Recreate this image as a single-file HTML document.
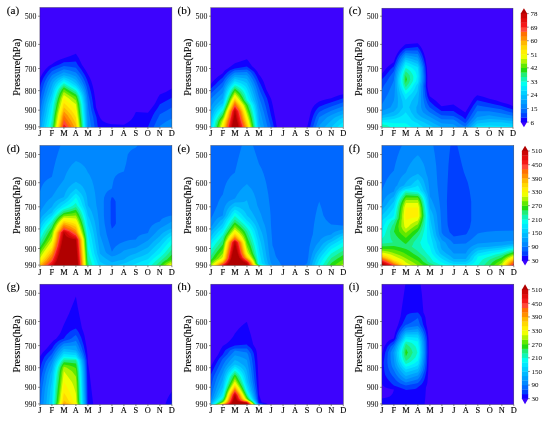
<!DOCTYPE html>
<html><head><meta charset="utf-8"><title>figure</title>
<style>html,body{margin:0;padding:0;background:#fff}svg{display:block}</style></head>
<body>
<svg width="550" height="421" viewBox="0 0 550 421">
<style>
text{font-family:"Liberation Serif",serif;fill:#000}
.lb,.yl,.mo{stroke:#000;stroke-width:0.12px}
.tk{font-size:7.9px;text-anchor:end}
.mo{font-size:8.4px;text-anchor:middle}
.lb{font-size:11.2px}
.yl{font-size:10.3px;text-anchor:middle}
.cb{font-size:7.0px}
</style>
<defs><clipPath id="ca"><rect x="39.90" y="7.40" width="132.00" height="119.90"/></clipPath><clipPath id="cb"><rect x="210.80" y="7.70" width="132.50" height="119.60"/></clipPath><clipPath id="cc"><rect x="381.90" y="8.20" width="131.10" height="119.10"/></clipPath><clipPath id="cd"><rect x="39.90" y="145.60" width="132.00" height="120.00"/></clipPath><clipPath id="ce"><rect x="210.80" y="145.60" width="132.50" height="120.00"/></clipPath><clipPath id="cf"><rect x="381.90" y="145.60" width="131.90" height="120.00"/></clipPath><clipPath id="cg"><rect x="39.90" y="284.20" width="132.00" height="120.20"/></clipPath><clipPath id="ch"><rect x="210.80" y="284.20" width="132.50" height="120.20"/></clipPath><clipPath id="ci"><rect x="381.90" y="284.20" width="131.90" height="120.20"/></clipPath><filter id="bl" x="0" y="0" width="550" height="421" filterUnits="userSpaceOnUse" color-interpolation-filters="sRGB"><feGaussianBlur stdDeviation="0.45"/></filter></defs>
<rect width="550" height="421" fill="#fff"/>
<g clip-path="url(#ca)"><g filter="url(#bl)">
<rect x="37.40" y="4.90" width="137.00" height="124.90" fill="#3d03fd"/>
<path fill-rule="evenodd" d="M37.4 129.8L174.4 129.8L174.4 88.6L171.9 88.6L165.9 92L159.9 94.6L158.1 97.3L155.7 102.3L154.5 104.3L151.6 108.3L147.9 112.7L135.9 112L133.8 116.3L131.7 119.3L129.9 121L128.2 122.3L123.9 124.8L111.9 124.3L108.9 123.7L105.9 122.8L103 121.3L101.9 120.3L100.4 118.3L98.5 114.3L96 107.3L95.4 101.3L94.1 92.3L92.8 86.3L91.3 81.3L90.1 78.3L88.5 75.3L85.6 70.3L81.9 64.8L78.9 58.3L75.9 53.8L69.7 56.3L60.9 59.3L57.9 60.5L54.7 62.3L51.9 64.3L48.9 66.1L45.6 69.3L42.7 73.3L39.9 78.3L37.4 78.3Z" fill="#1200ff"/>
<path fill-rule="evenodd" d="M37.4 129.8L97.9 129.8L97.9 127.3L96.5 117.3L94.8 112.3L93.4 107.3L93 103.3L91.4 94.3L90.7 91.3L89.3 86.3L86.8 79.3L84.9 75.2L81.1 69.3L78 65.3L75.9 61.5L69.9 62L63.9 62.3L59.9 64.3L51.9 67.6L49.8 69.3L48 71.3L45.9 73.9L43.2 78.3L41.5 82.3L40.8 84.3L39.9 88L37.4 88ZM147.9 129.8L174.4 129.8L174.4 97.8L171.9 97.8L159.9 104.3L157.5 108.3L154.7 112.3L153 115.3L150.3 121.3L147.9 127.3Z" fill="#0040ff"/>
<path fill-rule="evenodd" d="M37.4 129.8L94.6 129.8L94.6 127.3L93.2 117.3L91.4 110.3L89.9 101.3L86.6 86.3L84.9 81.4L82.8 77.3L80.9 74.3L75.9 67.7L69.9 66.7L63.9 66L55.9 69.3L51.9 71.3L48.9 74.7L47.1 77.3L45 81.3L43.8 84.3L41.6 92.3L39.9 100.2L37.4 100.2ZM153.6 129.8L174.4 129.8L174.4 107.6L171.9 107.6L165.9 111.1L159.9 114.3L156.8 120.3L153.6 127.3Z" fill="#0068ff"/>
<path fill-rule="evenodd" d="M37.4 129.8L91.2 129.8L91.2 127.3L88.5 109.3L87.1 96.3L85.9 90.3L84.1 85.3L81.6 80.3L78.9 76.1L75.9 72.6L69.9 70.6L63.9 69.3L57.9 71.9L53.5 74.3L51.9 75.3L50.5 77.3L47.5 82.3L45.4 88.3L42.5 99.3L39.9 111.8L37.4 111.8ZM159.3 129.8L174.4 129.8L174.4 118.6L171.9 118.6L166.7 121.3L162.2 124.3L159.9 126.1L159.3 127.3Z" fill="#0088ff"/>
<path fill-rule="evenodd" d="M37.4 129.8L87.9 129.8L87.7 121.3L86.8 104.3L85.9 97.3L85.4 94.3L84.2 90.3L82.5 86.3L78.9 80.4L75.9 76.4L70.5 74.3L63.9 72.3L56 76.3L53.5 78.3L51.9 80.1L50.5 82.3L49.3 85.3L47.6 90.3L45.1 98.3L43.6 104.3L39.9 123.6L37.4 123.6Z" fill="#00a0ff"/>
<path fill-rule="evenodd" d="M41.5 129.8L87 129.8L86.7 121.3L85.7 104.3L84.5 96.3L83.4 92.3L81.9 89L79.7 85.3L75.9 80.1L72.9 78.3L70.7 77.3L67.8 76.3L63.9 75.3L60.9 76.5L57.9 78.1L55.2 80.3L53.5 82.3L52.5 84.3L50 91.3L47.6 98.3L45.9 104.3L41.5 127.3Z" fill="#00b8ff"/>
<path fill-rule="evenodd" d="M43.7 129.8L86.1 129.8L85.7 120.3L84.6 104.3L83.5 97.3L83 95.3L81.4 91.3L78.3 86.3L75.9 83.5L73 81.3L71.3 80.3L66.9 78.3L63.9 77.3L60.9 78.8L58.7 80.3L56.5 82.3L54.9 84.6L53.2 88.3L51.9 93.3L50 98.3L48.1 104.3L43.7 127.3Z" fill="#00d0ff"/>
<path fill-rule="evenodd" d="M85.2 129.8L84.8 120.3L83.5 104.3L82.3 97.3L80.9 93.3L78.9 89.8L75.9 85.9L68.4 81.3L63.9 79.3L60.9 81.2L58.4 83.3L56.2 86.3L54.7 89.3L53.2 94.3L51.9 99.8L50.3 104.3L45.9 127.3L45.9 129.8Z" fill="#00e8ff"/>
<path fill-rule="evenodd" d="M84.3 129.8L84.3 127.3L82.4 104.3L81 97.3L80.3 95.3L78.3 91.3L75.9 88.3L69.9 84.5L63.9 81.3L60.9 83.5L58.4 86.3L56.6 89.3L55.1 93.3L53.7 98.3L52.3 104.3L51.9 107.6L48.1 127.3L48.1 129.8Z" fill="#00fff0"/>
<path fill-rule="evenodd" d="M83.5 129.8L83.5 127.3L82.9 120.3L81.4 104.3L79.5 96.3L77.4 92.3L75.9 90.3L63.9 83.3L60.9 86L58.4 89.3L56.7 93.3L55.4 97.3L53.7 104.3L51.9 118.9L50.3 127.3L50.3 129.8Z" fill="#10f5b8"/>
<path fill-rule="evenodd" d="M82.6 129.8L82.6 127.3L82 120.3L80.3 104.3L78.2 96.3L75.9 92.3L63.9 85.3L61.8 87.3L60.2 89.3L58.3 93.3L56.6 98.3L55.1 104.3L53.7 113.3L52.3 126.3L52.2 129.8Z" fill="#20ec78"/>
<path fill-rule="evenodd" d="M81.7 129.8L81.7 127.3L81 120.3L79.2 104.3L77.9 99.3L76.9 96.3L75.9 94.5L63.9 87.3L62.1 89.3L59.9 93.3L58.1 98.3L56.8 103.3L54.6 115.3L53.2 127.3L53.2 129.8Z" fill="#20dc10"/>
<path fill-rule="evenodd" d="M80.8 129.8L80.8 127.3L80.2 121.3L78.2 105.3L77.6 102.3L75.9 96.8L71.4 94.3L66.7 91.3L63.9 89.3L61.5 93.3L59.5 98.3L57.9 104.3L55.7 115.3L54.1 127.3L54.1 129.8Z" fill="#60e800"/>
<path fill-rule="evenodd" d="M79.9 129.8L79.9 127.3L78 111.3L77 104.3L75.9 100.5L71.9 97.3L63.9 92L63.1 93.3L61 98.3L59.3 104.3L56.9 115.3L55.1 127.3L55.1 129.8Z" fill="#b0f400"/>
<path fill-rule="evenodd" d="M79 129.8L79 127.3L78.2 120.3L75.9 104.3L72 101.3L68.6 98.3L63.9 95L62.4 98.3L58.5 113.3L56.1 127.3L56.1 129.8Z" fill="#f0ff00"/>
<path fill-rule="evenodd" d="M78.1 129.8L78 126.3L75.9 110.8L74.1 108.3L70.7 104.3L67.1 101.3L63.9 98.3L62.1 104.3L59.2 115.3L57.1 127.3L57.1 129.8Z" fill="#fff000"/>
<path fill-rule="evenodd" d="M77.2 129.8L77.2 127.3L75.9 117.3L73.5 113.3L71.2 110.3L66.9 105.7L63.9 102.9L60.4 115.3L58 127.3L58 129.8Z" fill="#ffd800"/>
<path fill-rule="evenodd" d="M76.3 129.8L76.3 127.3L75.9 124L73.6 119.3L71.2 115.3L69.6 113.3L66.9 110.3L63.9 107.6L61.3 116.3L59 127.3L59 129.8Z" fill="#ffb800"/>
<path fill-rule="evenodd" d="M74.6 129.8L74.6 127.3L70.8 120.3L67.5 115.3L63.9 111.4L62.7 115.3L60 127.3L60 129.8Z" fill="#ff9000"/>
<path fill-rule="evenodd" d="M71.9 129.8L71.9 127.3L67.5 120.3L63.9 115.3L61 127.3L61 129.8Z" fill="#ff7000"/>
<path fill-rule="evenodd" d="M69.2 129.8L69.2 127.3L66.9 124.3L63.9 119.8L62.9 124.3L61.9 127.3L61.9 129.8Z" fill="#ff4838"/>
<path fill-rule="evenodd" d="M66.6 129.8L66.6 127.3L63.9 124.3L62.9 127.3L62.9 129.8Z" fill="#f51818"/>
</g></g>
<g clip-path="url(#cb)"><g filter="url(#bl)">
<rect x="208.30" y="5.20" width="137.50" height="124.60" fill="#3d03fd"/>
<path fill-rule="evenodd" d="M208.3 129.8L276.8 129.8L276.8 127.3L275.4 119.3L272.7 105.3L271.2 99.3L270.8 98.3L266.2 89.3L263.8 82.3L262 78.7L260.4 76.3L259 74.7L257.1 71.3L254.4 68.3L252.1 66.3L248.6 61.3L246.9 59.3L234.9 63.3L228.2 68.3L225.1 70.3L224.2 71.3L222.8 73.3L218.4 76.3L215 79.3L213.2 81.3L210.8 84.3L208.3 84.3ZM307.2 129.8L345.8 129.8L345.8 94.3L343.3 94.3L339 95.3L334.3 96.9L331.3 98.3L326.4 99.3L322.8 100.3L319.2 101.6L316.6 103.3L314.4 105.3L312.9 107.3L311.8 109.3L310.7 112.3L307.2 127.3Z" fill="#1200ff"/>
<path fill-rule="evenodd" d="M208.3 129.8L273.9 129.8L273.9 127.3L273.1 123.3L271 115.3L268.7 104.3L267 98.3L264.1 92.3L260.6 84.3L259 81.3L256.7 76.3L254.3 72.3L253 70.9L246.9 66.5L234.9 68.5L230 70.3L227.4 72.3L224.5 75.3L222.8 77.6L219.5 80.3L217.4 82.3L215.7 84.3L210.8 88.5L208.3 88.5ZM310 129.8L345.8 129.8L345.8 98.3L343.3 98.3L325.4 104.3L319.2 106.8L317.6 108.3L316 110.3L314.8 112.3L313.4 115.3L311.8 120.3L310 127.3Z" fill="#0040ff"/>
<path fill-rule="evenodd" d="M208.3 129.8L271 129.8L271 127.3L267.8 115.3L265.9 107.3L263.6 99.3L260.1 91.3L257.1 83.3L255.4 79.3L252.4 74.3L250.9 72.3L249.8 71.3L246.9 69.5L234.9 70.3L232.9 71.3L230 73.3L227.7 75.3L225.1 78.3L222.8 82L210.8 93.6L208.3 93.6ZM312.9 129.8L345.8 129.8L345.8 102.3L343.3 102.3L331.3 106.5L324.4 109.3L319.2 112L317.6 114.3L316 117.3L312.9 127.3Z" fill="#0068ff"/>
<path fill-rule="evenodd" d="M208.3 129.8L267.6 129.8L267.6 127.3L263.9 112.3L261.5 104.3L259 97.3L256.5 88.3L254.6 83.3L252.6 79.3L250 75.3L246.9 71.9L234.9 72.5L232.1 74.3L229.7 76.3L226.9 79.3L224.9 82.3L222.8 87L219.8 90.3L210.8 98.8L208.3 98.8ZM315.8 129.8L345.8 129.8L345.8 106.3L343.3 106.3L331.3 110.8L325.2 113.7L319.2 117.3L315.8 127.3Z" fill="#0088ff"/>
<path fill-rule="evenodd" d="M208.3 129.8L264.1 129.8L264.1 127.3L260.6 112.3L259 107.3L258.1 102.3L254.7 90.3L253.3 86.3L251.5 82.3L249.2 78.3L246.9 75.3L234.9 74.7L231.9 77L228.9 80L225.9 84.4L224.5 87.3L222.8 92.9L215.3 100.3L212.3 104.3L210.8 107.3L208.3 107.3ZM318.6 129.8L345.8 129.8L345.8 110.3L343.3 110.3L337.7 112.3L331.3 115.1L327.2 117.3L323.1 121.3L319.2 125.6L318.6 127.3Z" fill="#00a0ff"/>
<path fill-rule="evenodd" d="M208.3 129.8L260.7 129.8L260.7 127.3L259 119.8L258.3 112.3L256.8 104.3L255.4 100.3L253.7 94.3L251.7 88.3L249.5 83.3L246.9 79L244.3 78.3L240.9 77.7L234.9 76.9L232 79.3L229.4 82.3L227.3 85.3L225.7 88.3L224.1 93.3L222.8 98.6L219.8 101.3L214.9 106.3L213.5 108.3L212.5 110.3L210.8 115.3L208.3 115.3ZM324.6 129.8L345.8 129.8L345.8 113.9L343.3 113.9L335.4 117.3L333.9 118.3L328.4 123.3L324.6 127.3Z" fill="#00b8ff"/>
<path fill-rule="evenodd" d="M208.3 129.8L258.5 129.8L258.5 127.3L257.4 116.3L256.9 112.3L255.5 105.3L254.3 102.3L253.3 100.3L251.4 94.3L249.7 89.3L246.9 83.3L243.9 81.6L240.9 80.5L234.9 79L231.9 82L229.9 84.3L227.8 87.3L226 91.3L224.8 95.3L222.8 103.3L221.1 104.3L218.5 106.3L215.8 109.3L214 112.3L212.8 115.3L211.6 119.3L210.8 123.3L208.3 123.3ZM331.3 129.8L345.8 129.8L345.8 117.5L343.3 117.5L339.8 119.3L335.2 123.3L331.3 127.3Z" fill="#00d0ff"/>
<path fill-rule="evenodd" d="M211.5 129.8L257.5 129.8L257.5 127.3L256.3 117.3L255.6 112.3L254 105.3L252.5 102.3L251.2 100.3L249.2 94.3L246.9 88.5L245.3 86.3L243.9 85.1L240.8 83.3L237.9 82.2L234.9 81.3L231.9 84.3L230.2 86.3L228.4 89.3L227 92.3L225.4 97.3L223.8 103.3L222.8 105.8L220.8 107.3L217.8 110.3L216.4 112.3L214.7 115.3L213.5 118.3L212.6 121.3L211.5 127.3ZM337.3 129.8L345.8 129.8L345.8 122L343.3 122L339.4 125.3L337.3 127.3Z" fill="#00e8ff"/>
<path fill-rule="evenodd" d="M212.8 129.8L256.5 129.8L256.5 127.3L255.1 117.3L254.2 112.3L252.4 105.3L250.6 102.3L249 100.3L246.6 93.3L245.1 90.3L243.6 88.3L240.9 86L237.9 84.5L234.9 83.4L232 86.3L230.5 88.3L228.9 91.2L227.6 94.3L224.7 103.3L222.8 108.3L220.5 110.3L218.7 112.3L216.8 115.1L215.2 118.3L214.1 121.3L212.8 127.3Z" fill="#00fff0"/>
<path fill-rule="evenodd" d="M214.1 129.8L255.5 129.8L255.5 127.3L254.1 118.3L252.8 112.3L250.8 105.3L248.8 102.3L246.9 100.3L245.3 95.3L244.4 93.3L243.2 91.3L241.5 89.3L240.4 88.3L237.3 86.3L234.9 85.2L232.1 88.3L230.2 91.3L227.6 97.3L225.6 103.3L222.8 110.6L221 112.3L219.4 114.3L218.1 116.3L215.5 121.3L214.1 127.3Z" fill="#10f5b8"/>
<path fill-rule="evenodd" d="M254.5 129.8L254.5 127.3L252.9 118.3L251.4 112.3L249.3 105.3L245.5 100.3L243.4 95.3L241.5 92.3L239.7 90.3L238.5 89.3L234.9 87L232.3 90.3L230.1 94.3L227.9 99.3L222.8 112.8L219.9 116.3L218 119.3L217 121.3L215.5 127.3L215.5 129.8Z" fill="#20ec78"/>
<path fill-rule="evenodd" d="M253.5 129.8L253.5 127.3L251.7 118.3L250.1 112.3L247.7 105.3L244 100.3L242.6 97.3L240 93.3L237.9 91.1L234.9 88.8L232.4 92.3L229.9 97.3L222.8 115.1L220.3 118.3L218.5 121.3L216.8 127.3L216.8 129.8Z" fill="#20dc10"/>
<path fill-rule="evenodd" d="M252.5 129.8L252.5 127.3L250.5 118.3L249 113.3L246.2 105.3L242.5 100.3L241.5 98.3L239.5 95.3L237.8 93.3L234.9 90.7L232.6 94.3L230 99.3L225 111.3L222.8 117.3L219.9 121.3L218.2 127.3L218.2 129.8Z" fill="#60e800"/>
<path fill-rule="evenodd" d="M251.5 129.8L251.5 127.3L249.6 119.3L248.1 114.3L244.8 105.3L241.1 100.3L239.2 97.3L236.7 94.3L234.9 92.6L233.2 95.3L230.6 100.3L225.9 111.3L223.8 117.3L222.8 119.3L221.4 121.3L219.5 127.3L219.5 129.8Z" fill="#b0f400"/>
<path fill-rule="evenodd" d="M250.4 129.8L250.4 127.3L249 121.3L245.5 110.3L243.5 105.3L237.9 97.9L234.9 94.6L231.6 100.3L226.7 111.3L224.7 117.3L222.8 121.3L220.8 127.3L220.8 129.8Z" fill="#f0ff00"/>
<path fill-rule="evenodd" d="M249.4 129.8L249.4 127.3L248.4 123.3L244.7 111.3L243.9 109.2L242.1 105.3L237.4 99.3L234.9 96.5L232.1 101.3L227.5 111.3L225.6 117.3L223.9 121.3L222.2 127.3L222.2 129.8Z" fill="#fff000"/>
<path fill-rule="evenodd" d="M248.4 129.8L248.4 127.3L247.9 125.3L243.2 110.3L240.7 105.3L234.9 98.2L232.6 102.3L228.3 111.3L226.5 117.3L224.9 121.3L223.4 127.3L223.4 129.8Z" fill="#ffd800"/>
<path fill-rule="evenodd" d="M247.4 129.8L247.4 127.3L242.6 111.3L241.1 108.3L239.3 105.3L234.9 99.9L233 103.3L229.1 111.3L227.4 117.3L225.9 121.3L224.4 127.3L224.4 129.8Z" fill="#ffb800"/>
<path fill-rule="evenodd" d="M246.3 129.8L246.3 127.3L243.9 120L241.5 111.3L239.8 108.3L237.9 105.3L234.9 101.6L230 111.3L228.4 117.3L226.9 121.3L225.5 127.3L225.5 129.8Z" fill="#ff9000"/>
<path fill-rule="evenodd" d="M245 129.8L245 127.3L242.8 120.3L240.4 111.3L238.6 108.3L234.9 103.3L230.8 111.3L229.3 117.3L227.9 121.3L226.5 127.3L226.5 129.8Z" fill="#ff7000"/>
<path fill-rule="evenodd" d="M243.8 129.8L243.8 127.3L241.7 120.3L239.3 111.3L237.4 108.3L234.9 105.1L231.6 111.3L230.2 117.3L228.9 121.3L227.6 127.3L227.6 129.8Z" fill="#ff4838"/>
<path fill-rule="evenodd" d="M242.5 129.8L242.5 127.3L240.5 120.3L238.2 111.3L234.9 106.8L232.4 111.3L228.6 127.3L228.6 129.8Z" fill="#f51818"/>
<path fill-rule="evenodd" d="M241.2 129.8L241.2 127.3L239 119.3L237.1 111.3L234.9 108.3L233.2 111.3L229.7 127.3L229.7 129.8Z" fill="#e20c0c"/>
<path fill-rule="evenodd" d="M240 129.8L240 127.3L237.9 119.6L236 111.3L234.9 109.8L234.1 111.3L232.9 117.3L230.7 127.3L230.7 129.8Z" fill="#cc0606"/>
<path fill-rule="evenodd" d="M238.7 129.8L238.7 127.3L236.7 119.3L234.9 111.3L233.9 117.3L231.7 127.3L231.7 129.8Z" fill="#b00000"/>
</g></g>
<g clip-path="url(#cc)"><g filter="url(#bl)">
<rect x="379.40" y="5.70" width="136.10" height="124.10" fill="#3d03fd"/>
<path fill-rule="evenodd" d="M379.4 73.8L379.4 129.8L515.5 129.8L515.5 106.3L513 106.3L510 104.7L507 103.7L501.1 102.3L495.6 100.3L489.2 98.7L483.2 96.8L477.2 95.3L474.9 97.3L473.3 99.3L465.3 112.6L453.4 104.6L441.5 106.3L435.5 100.6L429.6 96.3L428.2 91.3L427.3 86.3L427.3 76.3L426.8 67.3L425.3 58.3L423.9 53.3L422.2 49.3L420.4 46.3L417.7 43.3L411.7 43.7L405.7 44.3L404.3 45.3L399.8 49.8L397.4 53.3L395.4 57.3L393.8 62.3L390.8 64.3L387.3 67.3L384.7 70.3L381.9 73.8Z" fill="#1200ff"/>
<path fill-rule="evenodd" d="M379.4 79.3L379.4 129.8L515.5 129.8L515.5 109.6L513 109.6L501.1 105.8L495.1 104.6L477.2 100.3L473.4 105.3L468.6 113.3L465.3 119.3L463.2 117.3L461.8 116.3L458.2 114.3L453.4 111.1L441.5 111L435 106.3L429.6 101.3L428.6 99.3L427.4 96.3L426.6 92.1L425.8 86.3L426.1 81.3L426.1 76.3L425.5 67.3L425 64.3L423.5 58.3L422.1 54.3L420.1 50.3L417.7 47L405.7 48.3L402.8 50.3L400 53.3L398 56.3L396.6 59.3L393.8 66.5L392.7 67.3L389.7 70.3L385.8 75.3L381.9 79.3Z" fill="#0040ff"/>
<path fill-rule="evenodd" d="M379.4 89.4L379.4 129.8L515.5 129.8L515.5 112.8L513 112.8L507 111.3L501.1 109.3L482.2 106.3L477.2 105.3L468.6 119.3L465.3 123.3L457.7 118.3L453.4 116.1L441.5 115.3L436.5 112.3L429.6 107.3L428.4 105.3L427.4 103.3L426 99.3L425.2 96.3L424.3 86.3L424.8 81.3L424.8 76.3L424.2 67.3L423 62.3L421.3 57.3L419.4 53.3L417.7 50.6L405.7 50.6L402.8 53.2L400.2 56.3L398.5 59.3L395.5 66.3L393.8 71.3L389.4 77.3L386.3 82.3L384.1 85.3L381.9 89.4Z" fill="#0068ff"/>
<path fill-rule="evenodd" d="M379.4 129.8L515.5 129.8L515.5 115.8L513 115.8L510 115.3L501.1 113.3L489.2 111.3L477.2 111.3L473.4 117.3L468.3 123.3L465.3 126.4L462.3 125.2L459.4 123.6L456.4 121.3L453.4 119.6L441.5 119.3L429.6 112.3L428.4 111.3L426.6 109.3L425.3 107.3L424 102.3L423.1 96.3L422.8 86.3L423.5 81.3L423.6 76.3L422.9 67.3L421.1 61.3L418.9 56.3L417.7 54.1L411.7 53.4L405.7 52.9L403.3 55.3L401.7 57.3L399.9 60.3L397.9 64.3L396.6 67.3L395.3 71.3L394.1 77.3L393.8 80.5L387.9 93.8L384.9 99.3L381.9 104.2L379.4 104.2Z" fill="#0088ff"/>
<path fill-rule="evenodd" d="M458.4 129.8L458.4 127.3L456.3 126.3L453.4 124.3L441.5 123.3L435.9 120.3L426.6 114.9L423 112.3L422 110.3L421.1 107.3L420.9 96.3L421.3 86.3L422.2 81.3L422.4 76.3L422.1 71.3L421.6 67.3L419.9 62.3L417.7 57.6L412.6 56.3L405.7 55.2L402.8 58.7L400 63.3L398.2 67.3L396.8 71.3L395.9 75.3L395.3 79.3L394.5 96.3L393.8 100.7L390.6 107.3L386.3 109.3L381.9 111L379.4 111L379.4 129.8ZM467.3 129.8L515.5 129.8L515.5 118.6L513 118.6L501.1 117.3L489.2 115.3L477.2 116.9L472.3 122.3L467.3 127.3Z" fill="#00a0ff"/>
<path fill-rule="evenodd" d="M379.4 129.8L441.5 129.8L441.5 127.3L433.5 123.3L428.2 120.3L421.8 117.3L420.4 116.3L418.1 114.3L416.6 112.3L416.3 107.3L417.7 104.2L418.2 101.3L419.9 85.3L420.9 81.3L421.1 76.3L420.8 71.3L420.3 67.3L419.2 64.3L417.7 60.9L411.7 58.9L405.7 57.5L403.5 60.3L401.6 63.3L399.8 67.3L398.3 71.3L397.3 75.3L396.7 79.3L396.6 83.3L396.7 87.3L397.7 96.3L398 101.3L397.6 107.3L393.8 111.5L387.9 113.8L381.9 115.5L379.4 115.5ZM470.2 129.8L515.5 129.8L515.5 121.1L513 121.1L501.1 119.8L489.2 119L477.2 120.4L470.2 127.3Z" fill="#00b8ff"/>
<path fill-rule="evenodd" d="M379.4 129.8L433.5 129.8L433.5 127.3L423.6 122.3L417.7 119.6L415.7 118.3L414.7 117.3L411.2 112.3L409.2 107.3L411.6 101.3L416 94.3L417.5 91.3L418.4 85.3L419.6 81.3L419.9 76.3L419.5 71.3L419 67.3L417.7 64.1L411.7 61.6L405.7 59.8L403.3 63.3L401.3 67.3L399.8 71.3L398.7 75.3L398.1 79.3L398.1 83.3L398.7 88.3L399.9 93.3L402.3 101.3L403 107.3L399.4 112.3L397.3 114.3L395.4 115.3L393.8 116L387.9 117L381.9 117.9L379.4 117.9ZM473 129.8L515.5 129.8L515.5 123.8L513 123.8L501.1 122.3L489.2 122.3L477.2 123.4L473 127.3Z" fill="#00d0ff"/>
<path fill-rule="evenodd" d="M379.4 120.2L379.4 129.8L423.6 129.8L423.6 127.3L420 125.3L417.7 123.3L414.7 122.1L411.9 120.3L411 119.3L405.7 112.3L403.8 114.3L402.6 115.3L399.8 116.9L396.2 118.3L393.8 119L387.9 119.7L381.9 120.2ZM475.8 129.8L515.5 129.8L515.5 126.7L489.2 125.6L477.2 126L475.8 127.3ZM405.7 99.9L408.7 96.3L411.7 93.4L413.3 91.3L414.5 89.3L416.2 85.3L417.7 83.3L418.3 81.3L418.6 76.3L418.3 71.3L417.7 67.3L409.1 63.3L405.7 62.1L404.9 63.3L403.4 66.3L401.3 71.3L400.1 75.3L399.5 79.3L399.6 83.3L400.6 88.3L402.5 93.3L404.1 96.3Z" fill="#00e8ff"/>
<path fill-rule="evenodd" d="M379.4 122.3L379.4 129.8L411.7 129.8L411.7 127.3L405.7 123.3L393.8 123.3L387.9 122.6ZM405.7 94.3L409.1 91.3L410.8 89.3L412.2 87.3L413.2 85.3L416 81.3L416.9 76.3L416.1 73.3L415.3 71.3L413.5 69.3L411 67.3L405.7 64.8L402.8 71.3L401.5 75.3L401 79.3L401.2 83.3L402.1 87.3L403.4 90.3Z" fill="#00fff0"/>
<path fill-rule="evenodd" d="M379.4 124.3L379.4 129.8L390.6 129.8L390.6 127.3L387.1 125.3L381.9 124.3ZM405.7 90.6L409 87.3L411.7 83.3L412.8 81.3L413.3 79.3L413.3 76.3L412.5 74.3L410.5 71.3L408 69.3L405.7 68L404.2 71.3L402.9 75.3L402.4 79.3L402.7 83.3L403.9 87.3Z" fill="#10f5b8"/>
<path fill-rule="evenodd" d="M405.7 87.3L408.7 83.3L409.6 81.3L410.2 79.3L409.7 76.3L409.4 75.3L407.8 73.3L405.7 71.3L404.3 75.3L403.8 79.3L404.2 83.3Z" fill="#20ec78"/>
<path fill-rule="evenodd" d="M405.7 83.3L407 79.3L405.7 75.3L405.2 79.3Z" fill="#20dc10"/>
</g></g>
<g clip-path="url(#cd)"><g filter="url(#bl)">
<rect x="37.40" y="143.10" width="137.00" height="125.00" fill="#3d03fd"/>
<path fill-rule="evenodd" d="M37.4 268.1L174.4 268.1L174.4 143.1L37.4 143.1Z" fill="#1200ff"/>
<path fill-rule="evenodd" d="M37.4 268.1L174.4 268.1L174.4 143.1L37.4 143.1Z" fill="#0040ff"/>
<path fill-rule="evenodd" d="M37.4 268.1L174.4 268.1L174.4 143.1L37.4 143.1ZM111.9 228.8L110.7 223.6L110.6 201.6L111.5 197.6L111.9 197.2L113.1 197.6L114.5 199.6L115.6 201.6L115.9 223.6L114.8 225.6Z" fill="#0068ff"/>
<path fill-rule="evenodd" d="M37.4 268.1L174.4 268.1L174.4 215.6L171.9 215.6L168.9 216.1L165.9 216.9L162.9 218.3L161.3 219.6L159.9 221.6L156.9 222.6L154.8 223.6L152 225.6L150.9 226.9L149.8 228.6L147.9 232.9L141.9 234.5L139.6 235.6L138.2 236.6L137.2 237.6L135.9 239.6L129.9 240.1L126.9 240.7L123.9 241.7L119.7 243.6L117.9 244.7L115.6 246.6L113.9 248.6L111.9 251.8L106.7 234.6L104.6 223.6L103.9 215.6L103.8 201.6L104.1 197.6L104.5 196.6L105.8 193.6L107.3 191.6L108.9 190.2L111.9 188.6L113.5 180.6L114.2 178.6L115.3 176.6L117.2 174.6L118.6 173.6L120.9 172.5L123.9 171.6L126.1 163.6L127.8 154.6L129.1 152.6L130.8 150.6L132.9 149L135.9 147.4L137.6 145.6L137.6 143.1L60.5 143.1L60.5 145.6L58.1 152.6L56 159.6L54 167.6L51.9 176.8L47.3 179.6L45.9 180.8L44.2 182.6L42.9 184.5L41.8 186.6L39.9 191.6L37.4 191.6Z" fill="#0088ff"/>
<path fill-rule="evenodd" d="M37.4 268.1L174.4 268.1L174.4 221.6L171.9 221.6L159.9 228.6L157.6 230.6L154.9 233.6L147.9 240.6L141.9 243.9L135.9 247.6L129.9 248.8L123.9 250.6L121.5 252.6L119.9 253.6L117.9 254.6L114.9 255.7L111.9 256.6L110.1 255.6L107.1 253.6L106.1 252.6L105.5 251.6L99.9 234.6L98.8 221.6L97.4 210.6L96.4 205.6L95.1 193.6L93.8 186.6L92.1 180.6L89.9 175.6L87.9 172.6L85.9 168.6L84.4 166.6L82.3 164.6L81 163.6L78.9 162.3L75.9 161L72 164.6L69 168.6L66.3 173.6L64 179.6L57.4 188.6L52.3 196.6L51.4 197.6L48.9 199.6L46.2 202.6L41.5 209.6L39.9 212.7L37.4 212.7Z" fill="#00a0ff"/>
<path fill-rule="evenodd" d="M37.4 268.1L174.4 268.1L174.4 228.6L171.9 228.6L168.9 229.6L165.9 231L163.4 232.6L161.1 234.6L159.9 236L153.5 241.6L147.9 247.6L135.9 253.6L132.6 254.6L129.9 255.6L126.4 257.6L123.9 259.6L117.9 260.8L111.9 262.6L105.7 258.6L101.9 255.6L99.9 253.6L96 228.6L94.7 221.6L93.3 216.6L91.6 211.6L90.1 208.6L87.9 205.6L87 197.6L86.1 193.6L84.4 189.6L82.5 186.6L80.5 184.6L75.9 181.8L71.7 184.6L69.9 186.2L68.6 187.6L67.2 189.6L65.5 192.6L63.9 196.9L62.9 197.6L60.2 198.6L58.3 199.6L55.6 201.6L53.8 203.6L51.9 206.9L48.7 209.6L46 212.6L42.8 215.6L41.3 217.6L39.9 220L37.4 220Z" fill="#00b8ff"/>
<path fill-rule="evenodd" d="M37.4 268.1L107.9 268.1L107.9 265.6L105 264.6L102.9 263.6L99.9 261.6L97.2 253.6L93.9 234.6L92.4 227.6L90.2 220.6L87.9 215.3L86.9 210.6L85.2 205.6L84.4 201.6L83.3 197.6L82.3 195.6L81 193.6L77.2 189.6L75.9 188.4L70.5 193.6L67.7 197.6L63.9 200.7L60.6 202.6L57.9 204.9L53.7 209.6L51.9 212.7L48.8 214.6L45.9 217L44.4 218.6L42.2 221.6L39.9 225.1L37.4 225.1ZM115.9 268.1L174.4 268.1L174.4 232.1L171.9 232.1L168.9 233.6L165.9 235.7L162.9 238.3L159.9 241.8L156.8 244.6L147.9 253.6L141.9 256.2L135.9 258.3L126.8 262.6L123.9 263.6L115.9 265.6Z" fill="#00d0ff"/>
<path fill-rule="evenodd" d="M37.4 268.1L98.4 268.1L98.4 265.6L94.4 253.6L90.9 234.6L89.5 229.6L87.9 224.9L86.9 218.6L85.5 212.6L84.4 209.6L82.6 205.6L80.9 200.6L79.6 197.6L78 195.6L75.9 193.6L73.6 195.6L70.8 198.6L68.7 200.6L66.2 202.6L61.9 205.6L59.8 207.6L57.9 208.8L55.9 210.6L51.9 215.7L48.9 217.9L45.4 221.6L43.1 224.6L39.9 229.9L37.4 229.9ZM131.9 268.1L174.4 268.1L174.4 235.5L171.9 235.5L167.6 238.6L163.1 243.6L159.9 247.6L153.9 253.6L151.6 255.6L147.9 259.2L141.2 261.6L131.9 265.6Z" fill="#00e8ff"/>
<path fill-rule="evenodd" d="M37.4 268.1L95.4 268.1L95.4 265.6L92.2 255.6L90.8 249.6L87.9 234.6L86.5 224.6L84.8 216.6L83.5 212.6L82.3 209.6L79.9 205.6L77.7 200.6L75.9 197.6L73.4 200.6L70.1 203.6L67.3 205.6L60.9 209.1L57.9 211.5L54.1 215.6L51.9 218.6L48.9 221.4L46 224.6L42.8 229.6L39.9 234.6L37.4 234.6ZM145.4 268.1L174.4 268.1L174.4 239.1L171.9 239.1L165.3 246.6L159.9 253.6L156.9 255.8L153.6 258.6L150.5 261.6L147.9 264.5L145.4 265.6Z" fill="#00fff0"/>
<path fill-rule="evenodd" d="M37.4 268.1L92.4 268.1L92.4 265.6L90 257.6L87.9 249.6L87.4 239.6L86.9 234.6L85.6 226.6L84.3 220.6L82.8 215.6L81.2 211.6L79.5 208.6L77.2 205.6L75.9 203.1L73 205.6L69.3 207.6L63.4 209.6L60.9 211.3L57.9 213.9L54.9 217.1L53.1 219.6L51.9 221.6L49 224.6L47.5 226.6L44.1 231.6L39.9 239.5L37.4 239.5ZM151.3 268.1L174.4 268.1L174.4 244.3L171.9 244.3L164.2 253.6L161 256.6L156.3 260.6L153.2 263.6L151.3 265.6Z" fill="#10f5b8"/>
<path fill-rule="evenodd" d="M37.4 268.1L89.4 268.1L89.4 265.6L87.9 260.3L86.5 238.6L86 234.6L84.4 226.6L82.5 219.6L80.7 214.6L78.6 210.6L75.9 207L72.9 208.4L69.9 209.5L63.9 211.1L60.9 213.3L58.3 215.6L56.4 217.6L54.9 219.5L53.5 221.6L51.9 224.6L46.7 231.6L41.3 241.6L39.9 243.7L37.4 243.7ZM155.6 268.1L174.4 268.1L174.4 249.6L171.9 249.6L168.5 253.6L165.6 256.6L155.6 265.6Z" fill="#20ec78"/>
<path fill-rule="evenodd" d="M37.4 268.1L87.5 268.1L87.5 265.6L85.9 239.6L85 234.6L82.9 225.6L81 219.6L78.4 213.6L75.9 209.8L70.2 211.6L63.9 212.9L59.3 216.6L56.6 219.6L54.9 222L53.4 224.6L51.9 228.1L49.3 231.6L43.8 241.6L39.9 247.4L37.4 247.4ZM159.9 268.1L174.4 268.1L174.4 254.6L171.9 254.6L167.1 259.6L165.2 260.6L162.5 262.6L159.9 265.6Z" fill="#20dc10"/>
<path fill-rule="evenodd" d="M37.4 268.1L86.8 268.1L86.8 265.6L84.9 238.5L82.2 227.6L80.6 222.6L78.6 217.6L75.9 212.6L71.5 213.6L63.9 214.6L60.2 217.6L58.3 219.6L56.8 221.6L54.8 224.6L53.4 227.6L51.9 231.6L48.2 238.6L46.3 241.6L39.9 251.1L37.4 251.1ZM162.6 268.1L174.4 268.1L174.4 259.6L171.9 259.6L168.9 260.9L165.9 262.6L164.6 263.6L162.6 265.6Z" fill="#60e800"/>
<path fill-rule="evenodd" d="M37.4 268.1L86.1 268.1L86.1 265.6L84.3 239.6L83.6 236.6L80.3 225.6L78 219.6L75.9 215.6L63.9 216.2L60.9 218.8L57.9 222.2L55.7 225.6L53.4 230.6L52.7 232.6L51.9 236.5L50.2 239.6L42.5 250.6L39.9 254.8L37.4 254.8ZM165.2 268.1L174.4 268.1L174.4 261.3L171.9 261.3L167.7 263.6L165.2 265.6Z" fill="#b0f400"/>
<path fill-rule="evenodd" d="M37.4 268.1L85.4 268.1L85.4 265.6L83.6 239.6L82.7 236.6L81.3 232.6L79.4 226.6L77.4 221.6L75.9 218.5L69.9 218L63.9 217.7L61.8 219.6L59.2 222.6L57.1 225.6L54.1 231.6L51.9 240.8L44.2 251.6L41 256.6L39.9 257.9L37.4 257.9ZM167.9 268.1L174.4 268.1L174.4 263L171.9 263L167.9 265.6Z" fill="#f0ff00"/>
<path fill-rule="evenodd" d="M37.4 268.1L84.6 268.1L84.6 265.6L82.8 239.6L81.8 236.6L80.2 232.6L78.5 227.6L75.9 221.5L72.9 220.7L69.9 220.1L63.9 219.3L60.8 222.6L58.5 225.6L54.7 232.6L53.5 238.6L51.9 244.5L46.5 251.6L43.1 256.6L39.9 260.4L37.4 260.4ZM170.6 268.1L174.4 268.1L174.4 264.7L171.9 264.7L170.6 265.6Z" fill="#fff000"/>
<path fill-rule="evenodd" d="M37.4 268.1L83.9 268.1L83.9 265.6L82 239.6L81 236.6L79.1 232.6L77.7 228.6L75.9 224.4L72.9 223.1L69.9 222.2L63.9 220.9L62.3 222.6L59.9 225.6L55.8 232.6L54.3 239.6L51.9 247.8L48.8 251.6L45.3 256.6L41 261.6L39.9 262.6L37.4 262.6Z" fill="#ffd800"/>
<path fill-rule="evenodd" d="M37.4 268.1L83.2 268.1L83.2 265.6L81.3 239.6L80.1 236.6L78 232.6L75.9 227.1L73.1 225.6L70.7 224.6L67.8 223.6L63.9 222.6L61.3 225.6L58.9 229.6L56.8 232.6L55.6 238.6L53.4 246.6L51.9 250.7L47.5 256.6L43.2 261.6L39.9 264.6L37.4 264.6Z" fill="#ffb800"/>
<path fill-rule="evenodd" d="M41 268.1L82.4 268.1L82.4 265.6L80.5 239.6L79.2 236.6L77 232.6L75.9 229.9L72.9 227.9L70.3 226.6L68 225.6L63.9 224.2L62.7 225.6L60.1 229.6L57.8 232.6L56.4 239.6L54.8 245.6L51.9 253.6L46.4 260.6L41 265.6Z" fill="#ff9000"/>
<path fill-rule="evenodd" d="M43.2 268.1L81.7 268.1L81.7 265.6L79.7 239.6L77.2 234.6L75.9 232.6L74.9 231.6L73.6 230.6L69.9 228.6L63.9 225.9L61.4 229.6L58.8 232.6L57.4 239.6L55.6 246.6L53.9 251.6L51.9 256.5L48.7 260.6L43.2 265.6Z" fill="#ff7000"/>
<path fill-rule="evenodd" d="M45.4 268.1L81 268.1L81 265.6L79 239.6L77.4 236.6L75.9 234.1L70.3 230.6L67.8 229.6L63.9 227.8L62.6 229.6L59.8 232.6L58.4 239.6L56.7 246.6L54.3 253.6L51.9 259.4L50.9 260.6L45.4 265.6Z" fill="#ff4838"/>
<path fill-rule="evenodd" d="M47.5 268.1L80.3 268.1L80.3 265.6L78.2 239.6L75.9 235.6L73.9 234.6L69.4 231.6L66.9 230.5L63.9 229.6L60.9 232.5L58.1 245.6L55.2 254.6L53.1 259.6L52 261.6L47.5 265.6Z" fill="#f51818"/>
<path fill-rule="evenodd" d="M49.7 268.1L79.5 268.1L79.5 265.6L77.4 239.6L75.9 236.9L72.5 235.6L70.9 234.6L68.7 232.6L66.6 231.6L63.9 230.6L61.9 232.6L59.2 245.6L56.8 253.6L54.1 260.6L51.9 263.7L49.7 265.6Z" fill="#e20c0c"/>
<path fill-rule="evenodd" d="M78.8 268.1L78.8 265.6L76.7 239.6L75.9 238.3L72.9 237.4L69.9 236.1L68 234.6L66.3 232.6L63.9 231.6L62.9 232.6L60.2 245.6L57.9 253.9L55.5 260.6L53.5 263.6L51.9 265.6L51.9 268.1Z" fill="#cc0606"/>
<path fill-rule="evenodd" d="M78.1 268.1L78.1 265.6L75.9 239.6L71 238.6L68.4 237.6L66.9 236.7L65.7 235.6L65 234.6L63.9 232.6L61.3 245.6L59.5 252.6L56.8 260.6L55.1 263.6L53.6 265.6L53.6 268.1Z" fill="#b00000"/>
</g></g>
<g clip-path="url(#ce)"><g filter="url(#bl)">
<rect x="208.30" y="143.10" width="137.50" height="125.00" fill="#3d03fd"/>
<path fill-rule="evenodd" d="M208.3 268.1L345.8 268.1L345.8 143.1L208.3 143.1Z" fill="#1200ff"/>
<path fill-rule="evenodd" d="M208.3 268.1L345.8 268.1L345.8 143.1L208.3 143.1Z" fill="#0040ff"/>
<path fill-rule="evenodd" d="M208.3 268.1L345.8 268.1L345.8 143.1L208.3 143.1Z" fill="#0068ff"/>
<path fill-rule="evenodd" d="M208.3 268.1L281.4 268.1L281.4 265.6L279.2 261.6L276.5 257.6L275.6 255.6L274 249.6L272.5 245.6L271 225.6L270.6 215.6L270 208.6L268.3 194.6L266.3 183.6L265 178.5L263.5 173.6L261.5 168.6L259 163.9L253 145.6L253 143.1L241.8 143.1L241.8 145.6L238.3 158.6L234.9 172.6L232.4 174.6L230.4 176.6L227.6 180.6L226.1 183.6L225 186.6L223.8 190.6L222.8 194.6L221.3 196.6L219.5 199.6L218.2 202.6L217.2 205.6L212.7 215.6L211.5 217.6L210.8 219.9L208.3 219.9ZM345.8 268.1L345.8 225.7L341.8 225.6L337.3 225L331.3 224.6L328.6 222.6L325.8 219.6L323.4 215.6L321.6 208.6L319.2 201.6L317.3 207.6L315.5 215.6L314 224.6L312.8 234.6L311.5 238.6L309.6 246.6L308.8 252.6L308.3 257.6L307.2 262.9L304.5 265.6L304.5 268.1Z" fill="#0088ff"/>
<path fill-rule="evenodd" d="M208.3 268.1L272.7 268.1L272.7 265.6L271 263.3L269.6 257.6L267 235.6L266.1 230.6L264.9 225.6L262.9 220.6L261.1 214.6L257.3 205.6L256 199.6L253.9 193.6L252.4 190.6L251.1 188.6L246.9 183.9L246.4 184.6L242.9 187.6L240.2 190.6L237.3 194.6L235 198.6L230.1 200.6L228.5 201.6L226.6 203.6L224.9 206.6L224.2 208.6L223.4 211.6L222.8 215.6L219.8 216.9L218.6 217.6L216.8 219.1L214.7 221.6L212.3 225.6L210.8 227.2L208.3 227.2ZM309.2 268.1L345.8 268.1L345.8 229.6L343.3 229.6L340.3 230.1L337.3 230.9L335.5 231.6L333.6 232.6L332.2 233.6L331.3 234.6L327.1 235.6L324.6 236.6L322.2 238.1L320.6 239.6L319.2 241.8L317.5 243.6L316 245.6L313 251.6L312 254.6L309.2 265.6Z" fill="#00a0ff"/>
<path fill-rule="evenodd" d="M208.3 268.1L269.8 268.1L269.8 265.6L268 263.6L266.6 257.6L264.1 241.6L263 236.6L261.8 232.6L258.1 223.6L255.7 218.6L251.7 211.6L249.6 208.6L246.9 200.3L245 201.6L243.9 201.9L240.9 202.3L234.9 202.6L231.9 204.5L229.6 206.6L228.1 208.6L226.5 211.6L225.3 215.6L222.8 218.9L220.4 220.6L216.6 225.6L210.8 231.4L208.3 231.4ZM311.7 268.1L345.8 268.1L345.8 233.1L343.3 233.1L340.3 234L336.3 235.6L334.5 236.6L331.3 238.9L327.4 240.6L325.2 242L323.3 243.6L321.6 245.6L319.2 249.1L317.2 251.6L315.4 254.6L313.2 260.6L311.7 265.6Z" fill="#00b8ff"/>
<path fill-rule="evenodd" d="M208.3 268.1L268.2 268.1L268.2 265.6L265 263.6L263.6 257.6L262.6 251.6L260.8 242.6L259 236.9L257.4 230.6L255.9 226.6L254.8 224.6L253 221.9L249.9 218.3L246.9 215.6L246 213.6L244.6 211.6L242.6 209.6L239.3 207.6L234.9 206.2L232 208.6L229.7 211.6L227.8 215.6L224.1 220.6L222.8 223.2L220.9 225.6L214.6 231.6L210.8 236.8L208.3 236.8ZM314.2 268.1L345.8 268.1L345.8 235.5L343.3 235.5L340.4 236.6L335.8 239.6L328.6 243.6L325.4 246.6L319.2 254.1L317.7 256.6L316 260.6L314.2 265.6Z" fill="#00d0ff"/>
<path fill-rule="evenodd" d="M266.7 268.1L266.7 265.6L261.9 263.6L259 249.2L257.5 240.6L255 231.6L253.7 228.6L251.1 224.6L249.3 222.6L246.9 220.6L240.9 213.4L237.9 211L234.9 209.4L232 212.6L230.3 215.6L226.5 220.6L222.8 227.7L218.6 231.6L213.6 237.6L210.8 240.5L208.3 240.5L208.3 268.1ZM316.7 268.1L345.8 268.1L345.8 238.4L343.3 238.4L331.3 245.5L328.2 248.1L321.9 255.6L319.2 259.6L316.7 265.6Z" fill="#00e8ff"/>
<path fill-rule="evenodd" d="M265.2 268.1L265.2 265.6L259 263.6L258.2 255.6L256.5 245.6L254.4 237.6L252.7 232.6L251.9 230.6L250 227.6L248.4 225.6L237.5 214.6L234.9 212.6L228.3 221.6L222.8 231.4L219.8 234.4L215.4 239.6L212.6 242.6L210.8 245.1L208.3 245.1L208.3 268.1ZM319.2 268.1L345.8 268.1L345.8 241.9L343.3 241.9L337.3 245.8L331.3 249.2L324.9 256.6L322.8 259.6L319.2 265.6Z" fill="#00fff0"/>
<path fill-rule="evenodd" d="M263.6 268.1L263.6 265.6L259 264.4L258.2 263.6L257.7 259.6L254.5 245.6L252 237.6L249.7 231.6L247.6 228.6L244.2 224.6L234.9 216.1L229.3 223.6L225 230.6L222.8 235.1L221.4 236.6L215.8 243.6L210.8 250.6L208.3 250.6L208.3 268.1ZM322.7 268.1L345.8 268.1L345.8 246.2L343.3 246.2L331.3 253.6L327.8 257.6L322.7 265.6Z" fill="#10f5b8"/>
<path fill-rule="evenodd" d="M262.1 268.1L262.1 265.6L259 264.9L258.5 264.6L257.5 263.6L256.6 259.6L254.6 253.6L252.5 245.6L249.6 237.6L247 231.6L245.6 229.6L242 225.6L238.8 222.6L234.9 219.6L231.5 223.6L226.8 230.6L224.1 235.6L223.3 237.6L222.8 239.6L215.1 249.6L210.8 256L208.3 256L208.3 268.1ZM326.1 268.1L345.8 268.1L345.8 250.6L343.3 250.6L331.3 257.9L326.1 265.6Z" fill="#20ec78"/>
<path fill-rule="evenodd" d="M208.3 268.1L260.5 268.1L260.5 265.6L259 265.2L257.7 264.6L256.7 263.6L255.6 259.6L253 253.6L250.5 245.6L246.1 234.6L244.6 231.6L242.9 229.6L240 226.6L234.9 222.2L232.9 224.6L228.9 230.2L225.9 235L225 236.6L224 239.6L222.8 244.6L217.2 251.6L214.3 255.6L212.4 258.6L210.8 260.1L208.3 260.1ZM329.5 268.1L345.8 268.1L345.8 255.1L343.3 255.1L337.3 258.8L331.3 263L329.5 265.6Z" fill="#20dc10"/>
<path fill-rule="evenodd" d="M208.3 268.1L259 268.1L259 265.6L256.9 264.6L256 263.6L255.4 261.6L254.6 259.6L253.3 257.6L251.3 253.6L249.3 247.6L246.9 242.2L245.9 238.6L244.2 234.6L242.2 231.6L241.3 230.6L234.9 224.8L229.7 231.6L226.4 236.6L224.4 241.6L222.8 249.1L217.5 255.6L215.4 258.6L212.7 260.6L210.8 262.8L208.3 262.8ZM334.3 268.1L345.8 268.1L345.8 259.6L343.3 259.6L339.9 261.6L334.3 265.6Z" fill="#60e800"/>
<path fill-rule="evenodd" d="M210.8 268.1L258.1 268.1L258.1 265.6L256.1 264.6L255.2 263.6L254.6 261.6L253.5 259.6L252.1 257.6L251 255.6L249.7 253.6L246.9 246.5L245.7 241.6L243.5 236.6L242.2 234.6L239.7 231.6L234.9 227.3L228.9 235L227.8 236.6L225.9 240.5L225 242.6L222.8 253.3L218.4 258.6L215.1 260.6L212 263.6L210.8 265.6ZM340.3 268.1L345.8 268.1L345.8 263.6L343.3 263.6L340.3 265.6Z" fill="#b0f400"/>
<path fill-rule="evenodd" d="M212.1 268.1L257.1 268.1L257.1 265.6L255.3 264.6L254.5 263.6L254.2 262.6L253 260.3L250.8 257.6L249.6 255.6L248 253.6L246.9 251L244.6 241.6L241.8 236.6L239.4 233.6L234.9 229.6L229.9 235.6L226.3 241.6L225.9 242.6L222.8 256.9L221.4 258.6L217.6 260.6L213.7 263.6L212.1 265.6Z" fill="#f0ff00"/>
<path fill-rule="evenodd" d="M213.5 268.1L256.2 268.1L256.2 265.6L254.5 264.6L253.8 263.6L253.4 262.6L252.2 260.6L250.6 258.6L249.5 257.6L246.6 253.6L244 242.6L242.9 240.6L239.3 235.6L237.9 234.1L234.9 231.6L230.6 236.6L227.2 241.6L226.8 242.6L223.3 258.6L222.8 259.2L218.3 261.6L215.4 263.6L214.3 264.6L213.5 265.6Z" fill="#fff000"/>
<path fill-rule="evenodd" d="M214.8 268.1L255.3 268.1L255.3 265.6L253.7 264.6L252 261.6L250.5 259.6L248.2 257.6L246.9 255.9L245.6 253.6L243 242.6L242.5 241.6L237.9 236L234.9 233.4L232 236.6L228.2 241.6L227.7 242.6L224.2 258.6L222.8 260.4L217.2 263.6L214.8 265.6Z" fill="#ffd800"/>
<path fill-rule="evenodd" d="M216.2 268.1L254.3 268.1L254.3 265.6L252.9 264.6L251.9 262.6L249.9 260.1L248.3 258.6L246.9 257.6L244.6 253.6L242 242.6L240.9 241L236.7 236.6L234.9 234.9L229.1 241.6L228.6 242.6L225.1 258.6L222.8 261.5L218.9 263.6L216.2 265.6Z" fill="#ffb800"/>
<path fill-rule="evenodd" d="M253.4 268.1L253.4 265.6L252.1 264.6L251.1 262.6L249.4 260.6L245.8 257.6L243.7 253.6L241 242.6L240.3 241.6L234.9 236.5L230.1 241.6L229.5 242.6L225.9 258.6L224.6 260.6L222.8 262.6L219.8 264L217.5 265.6L217.5 268.1Z" fill="#ff9000"/>
<path fill-rule="evenodd" d="M252.5 268.1L252.5 265.6L251.4 264.6L250.3 262.6L249.5 261.6L247.4 259.6L244.7 257.6L243.2 254.6L242.4 252.6L240 242.6L239.3 241.6L234.9 237.9L231 241.6L230.4 242.6L226.8 258.6L225.5 260.6L223.9 262.6L218.8 265.6L218.8 268.1Z" fill="#ff7000"/>
<path fill-rule="evenodd" d="M251.6 268.1L251.6 265.6L250.6 264.6L249.5 262.6L246.9 260.1L243.6 257.6L242.6 255.6L241.4 252.6L239 242.6L237.9 241.4L234.9 239.1L232 241.6L231.3 242.6L227.7 258.6L226.5 260.6L225 262.6L222.8 264.1L220.2 265.6L220.2 268.1Z" fill="#ff4838"/>
<path fill-rule="evenodd" d="M250.6 268.1L250.6 265.6L249.8 264.6L248.7 262.6L246.9 260.9L244.8 259.6L242.5 257.6L240.7 253.6L238 242.6L237.1 241.6L234.9 240L232.9 241.6L232.1 242.6L228.6 258.6L227.5 260.6L226.1 262.6L224.8 263.6L221.5 265.6L221.5 268.1Z" fill="#f51818"/>
<path fill-rule="evenodd" d="M249.7 268.1L249.7 265.6L249 264.6L248 262.6L246.9 261.6L243.9 259.9L241.4 257.6L239.7 253.6L237 242.6L236 241.6L234.9 240.8L233.9 241.6L233 242.6L229.5 258.6L227.1 262.6L224.6 264.6L222.8 265.6L222.8 268.1Z" fill="#e20c0c"/>
<path fill-rule="evenodd" d="M248.8 268.1L248.8 265.6L247.2 262.6L243.4 260.6L242.2 259.6L240.3 257.6L238.7 253.6L236 242.6L234.9 241.6L233.9 242.6L230.3 258.6L228.2 262.6L225.9 264.6L224.4 265.6L224.4 268.1Z" fill="#cc0606"/>
<path fill-rule="evenodd" d="M247.9 268.1L247.9 265.6L246.9 263.4L243.4 261.6L241.9 260.6L240.8 259.6L239.2 257.6L237.8 253.6L234.9 242.5L231.2 258.6L229.3 262.6L227.3 264.6L225.9 265.6L225.9 268.1Z" fill="#b00000"/>
</g></g>
<g clip-path="url(#cf)"><g filter="url(#bl)">
<rect x="379.40" y="143.10" width="136.90" height="125.00" fill="#3d03fd"/>
<path fill-rule="evenodd" d="M379.4 268.1L516.3 268.1L516.3 143.1L379.4 143.1Z" fill="#1200ff"/>
<path fill-rule="evenodd" d="M379.4 268.1L516.3 268.1L516.3 143.1L379.4 143.1Z" fill="#0040ff"/>
<path fill-rule="evenodd" d="M379.4 268.1L516.3 268.1L516.3 143.1L457.3 143.1L457.3 145.6L462.1 165.6L464 172.6L467.8 182.6L469.6 190.6L471.2 201.6L471.2 220.6L469.9 227.6L466.9 233.6L465.8 234.6L453.8 236.6L449.8 232.6L449.3 231.6L447.8 225.6L447.4 220.6L446.9 201.6L447.4 186.6L448.5 164.6L449.4 154.6L450.4 145.6L450.4 143.1L379.4 143.1Z" fill="#0068ff"/>
<path fill-rule="evenodd" d="M401.9 143.1L401.9 145.6L399.6 150.6L397.5 156.6L395.5 163.6L393.9 170.6L390.2 174.6L386.8 179.6L383 187.6L381.9 191.6L379.4 191.6L379.4 268.1L516.3 268.1L516.3 230.6L504.8 230.8L495.8 231.1L486.8 231.8L480.8 232.7L477.8 233.6L471.8 239L465.8 243.6L453.8 243.9L450.7 240.6L443.7 235.6L441.9 232.9L441.6 231.6L440.4 210.6L439.4 201.6L438.7 196.6L437.5 185.6L436.2 165.6L434.8 154.6L433.3 145.6L433.3 143.1Z" fill="#0088ff"/>
<path fill-rule="evenodd" d="M379.4 204.6L379.4 268.1L516.3 268.1L516.3 240.6L507.8 240.9L501.8 241.7L495.8 242L489.8 242.6L483.8 242.9L477.8 243.6L473.2 245.6L471.6 246.6L469.1 248.6L467.4 250.6L465.8 253.6L453.8 253.6L451.3 250.6L448.3 247.6L445.5 242.6L441.9 239.9L439.5 235.6L438.6 231.6L437.4 220.6L437.1 216.6L436.4 212.6L435.2 208.6L432.9 202.4L431.6 199.6L429.9 196.6L429.6 192.6L428.5 182.6L427.7 177.6L426.3 173.6L424.5 166.6L423.4 163.6L420.9 158.9L419.2 156.6L417.9 155.2L416.2 156.6L414.2 158.6L412.5 160.6L410.4 163.6L408.1 167.6L405.9 172.6L402.7 175.6L401.1 177.6L399.9 179.6L398.4 182.6L397.2 185.6L396 186.6L395.3 187.6L394.5 189.6L393.9 191.6L389.9 193.6L387.9 195.1L386.4 196.6L384.9 198.5L383.6 200.6L381.9 204.6Z" fill="#00a0ff"/>
<path fill-rule="evenodd" d="M379.4 209.9L379.4 268.1L516.3 268.1L516.3 243.9L513.8 243.9L504.8 244.9L501.8 245.6L495.8 246L489.8 246.8L477.8 247.6L474.8 249.1L471.8 251.3L468.2 255.6L465.8 259.1L453.8 259.1L449.5 255.6L446.3 253.6L441.9 249.7L440.8 247.6L440 242.6L438.3 239.6L436.5 235.6L435.7 231.6L433.3 215.6L431.8 211.6L429.9 208L428.8 199.6L427.9 194.6L426.5 190.6L424.3 182.6L423.2 179.6L421.9 177.6L420.9 176.4L417.9 173.8L412.4 176.6L409.6 178.6L407.6 180.6L405.9 182.6L403.9 185.6L401.2 186.6L399.5 187.6L397.9 189.6L396.8 190.6L396.2 191.6L393.9 196.4L391.2 198.6L389.3 200.6L386.7 204.6L381.9 209.9Z" fill="#00b8ff"/>
<path fill-rule="evenodd" d="M379.4 215.2L379.4 268.1L516.3 268.1L516.3 245.6L513.8 245.6L507.8 246.5L501.8 247.6L483.8 249.6L477.8 250.6L474.9 252.6L472.8 254.6L470.9 256.6L469.9 258.6L469.1 259.6L465.8 261.8L453.8 261.8L448.9 259.6L441.3 254.6L440.2 253.6L439.5 252.6L437.2 247.6L436.3 242.6L435 239.6L433.6 235.6L430.5 220.6L427.8 201.6L427 197.6L425.9 194.6L424.9 192.6L423.5 190.6L422.4 187.6L420.6 183.6L418.9 180.6L417.9 179.2L414.8 181.6L410.8 185.6L405.9 186.8L403.8 187.6L401.4 189.6L399.5 190.6L398.4 191.6L396.9 194.1L395.7 196.6L393.9 201.6L386.5 210.6L383.7 213.6L381.9 215.2Z" fill="#00d0ff"/>
<path fill-rule="evenodd" d="M379.4 220.6L379.4 268.1L516.3 268.1L516.3 247.1L513.8 247.1L507.8 248.2L501.8 249.6L489.8 251.1L477.8 253.6L474.4 256.6L472.8 259.6L471.8 260.7L469.2 262.6L467.2 263.6L465.8 264L453.8 264L452.1 263.6L449.1 262.6L444.9 260.6L441.9 258.7L439.1 256.6L436.1 253.6L435.6 252.6L433.7 247.6L432.5 242.6L430.9 236.6L429.2 227.6L428.7 221.6L428.5 215.6L427.4 207.6L426.4 201.6L425.4 197.6L423.9 194.3L422.6 192.6L420.6 190.6L419.1 187.6L417.9 185.6L416.1 186.6L414.9 187.1L408.9 188.4L405.9 188.9L404.8 189.6L402.3 190.6L400.7 191.6L399.2 193.6L397.5 196.6L395.5 201.6L393.9 207.5L391.1 211.6L388.7 214.6L386.8 216.6L381.9 220.6Z" fill="#00e8ff"/>
<path fill-rule="evenodd" d="M379.4 268.1L453.8 268.1L453.8 265.6L447.9 264.6L444.9 263.7L441.9 262.6L440.1 261.6L438.7 260.6L435.4 257.6L433.6 255.6L432.1 253.6L431.3 251.6L429.9 246.5L427.7 242.6L427.3 240.6L426.9 236.6L426.9 231.6L427.2 215.6L426.2 207.6L425.1 201.6L423.9 197.6L422.8 195.6L420.9 193.2L417.9 190.8L411.9 190.4L405.9 190.3L403 191.6L401.3 193.6L399.9 195.7L397.4 200.6L395.4 207.6L393.9 215.8L392.4 217.6L390.9 218.6L388.5 219.6L386.7 220.6L384.1 225.6L381.9 231.6L379.4 231.6ZM465.8 268.1L516.3 268.1L516.3 248.6L513.8 248.6L507.8 249.6L504.8 250.4L501.8 251.6L492.8 252.9L477.8 256.6L476.6 259.6L475.3 261.6L474.4 262.6L473.2 263.6L471 264.6L465.8 265.6Z" fill="#00fff0"/>
<path fill-rule="evenodd" d="M379.4 268.1L441.9 268.1L441.9 265.6L433.3 261.6L429.9 256.7L426.9 253.6L424.6 250.6L422.1 247.6L420.2 242.6L421.6 239.6L422.9 235.6L424.4 229.6L425.3 223.6L425.9 215.6L425 207.6L424.3 203.6L423.2 199.6L422.4 197.6L421.1 195.6L419.2 193.6L417.9 192.6L405.9 191.3L405.2 191.6L403.4 193.6L400.6 197.6L399.1 200.6L398.3 202.6L396.9 207.6L395.2 217.6L394.9 218.6L393.9 219.6L391.5 220.6L388.7 224.6L387.7 226.6L384.9 234.7L383.9 236.6L383.1 237.6L381.9 238.8L379.4 238.8ZM477.8 268.1L516.3 268.1L516.3 249.6L513.8 249.6L509 250.6L501.8 253.3L495.4 254.6L486.8 257.5L484.3 258.6L482.6 259.6L481.7 260.6L477.8 265.6Z" fill="#10f5b8"/>
<path fill-rule="evenodd" d="M379.4 268.1L435.9 268.1L435.9 265.6L429.9 262.9L427.6 261.6L426 258.6L423.9 256.6L420.3 253.6L417.1 250.6L412.9 247.6L411.7 246.6L413 244.6L413.6 242.6L417.9 237L419.5 234.6L421.8 229.6L423.3 224.6L424.6 216.6L423.8 207.6L422.5 201.6L420.9 197.6L419.3 195.6L417.9 194.2L405.9 193.1L403 196.6L400.7 200.6L399.5 203.6L398.4 207.6L396.6 218.6L395 220.6L393.9 223.3L392.2 225.6L389.9 231.6L390.6 237.6L391.2 239.6L391.7 240.6L392.6 241.6L392.5 242.6L383.6 243.6L379.4 243.8ZM483.8 268.1L516.3 268.1L516.3 250.6L513.8 250.6L504.8 253.8L501.8 255.1L495.8 257.1L489.8 259.6L486.8 262.3L483.8 265.6Z" fill="#20ec78"/>
<path fill-rule="evenodd" d="M379.4 246.4L379.4 268.1L429.9 268.1L429.9 265.6L426 263.6L423 261.6L420.5 258.6L417.9 256.5L413.1 253.6L409 250.6L405.9 248.9L399.9 247.3L393.9 246ZM489.8 268.1L516.3 268.1L516.3 252.1L513.8 252.1L506.6 254.6L504.5 255.6L501.8 257.5L495.8 260L492.8 262.1L490.5 264.6L489.8 265.6ZM405.9 244L408.9 241L412.8 236.6L417.9 231.6L419.8 228.6L420.7 226.6L422.3 221.6L423.3 216.6L423.4 215.6L422.6 207.6L421.8 203.6L420.9 200.6L419.4 197.6L417.9 195.9L405.9 195.3L404.1 197.6L402.3 200.6L401 203.6L399.9 207.6L398.4 218.6L397.2 220.6L395.2 226.6L394.6 229.6L393.9 231.6L396.3 235.6L398.9 238.6L402.9 242.1L404.8 243.6Z" fill="#20dc10"/>
<path fill-rule="evenodd" d="M379.4 248.7L379.4 268.1L423.9 268.1L423.9 265.6L420.8 263.6L417.9 261L408.3 255.6L405.9 253.9L403.2 252.6L399.9 251.3L393.9 249.6L387.9 249ZM493.8 268.1L516.3 268.1L516.3 253.6L513.8 253.6L510.8 254.5L507.8 255.7L504.8 257.4L503.3 258.6L501.8 260.1L498.9 261.6L497.3 262.6L494.8 264.6L493.8 265.6ZM405.9 238L412.7 231.6L417.9 227.9L419.5 224.6L421.2 219.6L422 216.6L422.1 215.6L421.5 207.6L420.8 204.6L419.9 201.6L417.9 197.6L405.9 197.6L403.9 200.6L402.2 204.6L401.4 207.6L400.3 215.6L400.2 218.6L399.3 220.6L398.3 226.6L399.1 231.6L401.7 234.6Z" fill="#60e800"/>
<path fill-rule="evenodd" d="M379.4 250.6L379.4 268.1L417.9 268.1L417.9 265.6L416.5 264.6L411.6 261.6L402.9 256.8L399.9 255.3L392.1 252.6L388.5 251.6L381.9 250.6ZM497.8 268.1L516.3 268.1L516.3 254.8L513.8 254.8L511.5 255.6L507.8 257.3L505.7 258.6L503.5 260.6L501.8 262.9L497.8 265.6ZM405.9 233.1L407.4 231.6L415.5 225.6L417.9 224.2L419.4 220.6L420.7 216.6L420.8 215.6L420.3 207.6L419.3 203.6L417.9 200.1L405.9 200.1L405 201.6L403.8 204.6L402.9 207.6L401.9 215.6L401.9 218.6L401.5 220.6L401.3 226.6L402.9 229.9L404.3 231.6Z" fill="#b0f400"/>
<path fill-rule="evenodd" d="M379.4 252.4L379.4 268.1L411.9 268.1L411.9 265.6L405.9 262.4L403.8 260.6L402.1 259.6L390.9 254.6L384.9 253L381.9 252.4ZM501.8 268.1L516.3 268.1L516.3 256L513.8 256L512.3 256.6L508.2 258.6L505.5 260.6L503.7 262.6L501.8 265.6ZM405.9 228.7L408.7 226.6L410.4 224.6L411.9 223.4L414.9 221.7L417.9 220.6L419.4 216.6L419.5 215.6L419.1 207.6L417.9 203.1L405.9 203.1L404.4 207.6L403.5 216.6L403.8 221.6L404.4 226.6Z" fill="#f0ff00"/>
<path fill-rule="evenodd" d="M379.4 253.9L379.4 268.1L405.9 268.1L405.9 265.6L405.1 264.6L402.9 262.7L399.9 260.8L396.9 259.6L393.9 258.7L390.9 256.7L387.9 255.4L381.9 253.9ZM503.2 268.1L516.3 268.1L516.3 257.2L513.8 257.2L510.7 258.6L507.5 260.6L505.4 262.6L503.2 265.6ZM405.9 220.6L407.5 219.6L410 218.6L414.4 217.6L417.9 217.1L418.2 215.6L417.9 207.6L405.9 207.6L405.1 215.6L405.2 216.6Z" fill="#fff000"/>
<path fill-rule="evenodd" d="M379.4 255.1L379.4 268.1L403.9 268.1L403.9 265.6L401.2 263.6L397.6 261.6L393.9 260.2L386.7 256.6L381.9 255.1ZM504.6 268.1L516.3 268.1L516.3 258.3L513.8 258.3L510.8 259.8L508.2 261.6L506.2 263.6L504.6 265.6Z" fill="#ffd800"/>
<path fill-rule="evenodd" d="M379.4 256.4L379.4 268.1L401.9 268.1L401.9 265.6L399.9 264.3L393.9 261.6L390.2 259.6L384.9 257.4L381.9 256.4ZM506 268.1L516.3 268.1L516.3 259.4L513.8 259.4L510.8 261.1L508.9 262.6L506 265.6Z" fill="#ffb800"/>
<path fill-rule="evenodd" d="M379.4 257.6L379.4 268.1L399.9 268.1L399.9 265.6L398.1 264.6L393.9 263L389.7 260.6L384.9 258.6L381.9 257.6ZM507.5 268.1L516.3 268.1L516.3 260.5L513.8 260.5L511.9 261.6L509.4 263.6L507.5 265.6Z" fill="#ff9000"/>
<path fill-rule="evenodd" d="M379.4 258.5L379.4 268.1L397.9 268.1L397.9 265.6L393.1 263.6L387.9 260.9L384.9 259.6L381.9 258.5ZM508.9 268.1L516.3 268.1L516.3 261.6L513.8 261.6L510.8 263.8L508.9 265.6Z" fill="#ff7000"/>
<path fill-rule="evenodd" d="M379.4 259.5L379.4 268.1L395.9 268.1L395.9 265.6L391 263.6L387 261.6L382.2 259.6ZM510.3 268.1L516.3 268.1L516.3 262.7L513.8 262.7L511.4 264.6L510.3 265.6Z" fill="#ff4838"/>
<path fill-rule="evenodd" d="M379.4 260.4L379.4 268.1L393.9 268.1L393.9 265.6L388.9 263.6L381.9 260.4ZM511.7 268.1L516.3 268.1L516.3 263.9L513.8 263.9L511.7 265.6Z" fill="#f51818"/>
<path fill-rule="evenodd" d="M379.4 261.4L379.4 268.1L391.5 268.1L391.5 265.6L381.9 261.4ZM513.1 268.1L516.3 268.1L516.3 265L513.8 265L513.1 265.6Z" fill="#e20c0c"/>
<path fill-rule="evenodd" d="M379.4 262.3L379.4 268.1L389.1 268.1L389.1 265.6L381.9 262.3Z" fill="#cc0606"/>
<path fill-rule="evenodd" d="M379.4 268.1L386.7 268.1L386.7 265.6L381.9 263.3L379.4 263.3Z" fill="#b00000"/>
</g></g>
<g clip-path="url(#cg)"><g filter="url(#bl)">
<rect x="37.40" y="281.70" width="137.00" height="125.20" fill="#3d03fd"/>
<path fill-rule="evenodd" d="M37.4 406.9L93.2 406.9L93.2 404.4L89.7 374.4L87.9 362.4L87.5 354.4L86.6 347.4L84.4 335.4L83.2 331.4L82 328.4L77.6 306.4L75.9 296.4L69.1 313.4L63.9 324.4L60.6 332.4L59.4 334.4L56.4 338.4L53.6 340.4L50 344.4L46.7 348.4L42.9 352.6L39.9 356.4L37.4 356.4ZM165.4 406.9L174.4 406.9L174.4 391.4L171.9 391.4L169.1 395.4L167.1 399.4L165.4 404.4Z" fill="#1200ff"/>
<path fill-rule="evenodd" d="M37.4 406.9L87.7 406.9L87.1 370.4L86.7 360.4L85.9 355.4L83.7 345.4L81.2 337.4L78.8 332.4L77.5 330.4L75.9 328.4L72.9 329.7L69.9 331.6L66.7 334.4L65.1 336.4L63.9 338.4L61.3 339.4L59.3 340.4L57.8 341.4L55.5 343.4L53.9 345.4L51.9 348.9L47.3 353.4L44.7 356.4L44.1 357.4L41.9 362.4L39.9 369.7L37.4 369.7ZM170.8 406.9L174.4 406.9L174.4 402.2L171.9 402.2L170.8 404.4Z" fill="#0040ff"/>
<path fill-rule="evenodd" d="M37.4 406.9L86.9 406.9L86.3 374.4L85.5 360.4L84 354.4L81 345.4L78 338.4L75.9 334.9L73.7 336.4L71.4 338.4L69.2 339.4L63.9 340.9L61.1 342.4L59.7 343.4L57.6 345.4L56 347.4L53.3 351.4L51.9 353.9L48.7 357.4L45.9 361.6L45 363.4L44.3 365.4L42 373.4L39.9 385.1L37.4 385.1Z" fill="#0068ff"/>
<path fill-rule="evenodd" d="M40.5 406.9L86.1 406.9L85.2 371.4L84.8 365.4L84.3 360.4L81.9 353.4L80.4 350.4L78.4 345.4L75.9 340.8L74.3 341.4L70.4 342.4L63.9 343.4L61.3 345.4L59.2 347.4L55.9 351.4L54 354.4L51.9 358.7L49.8 361.4L48.4 363.4L46.1 369.4L44.6 374.4L42.1 388.4L40.5 404.4Z" fill="#0088ff"/>
<path fill-rule="evenodd" d="M43.3 406.9L85.3 406.9L84.2 371.4L83.8 365.4L83.1 360.4L80.5 354.4L79.5 352.4L78.1 350.4L75.9 345.6L63.9 346.2L60.9 349L57.9 352.3L56.4 354.4L54 358.4L49.2 369.4L47.5 374.4L44.9 388.4L43.3 404.4Z" fill="#00a0ff"/>
<path fill-rule="evenodd" d="M46.2 406.9L84.5 406.9L83.4 374.4L83.1 369.4L82.4 363.4L81.9 360.4L81.5 359.4L80.2 357.4L78.2 353.4L75.9 350.4L69.9 349.5L63.9 349L61.3 351.4L59.5 353.4L56.6 357.4L54.9 360.2L53.5 363.4L51.9 370.3L50.6 373.4L47.7 388.4L46.2 404.4Z" fill="#00b8ff"/>
<path fill-rule="evenodd" d="M49 406.9L83.7 406.9L83.7 404.4L83.3 401.4L82.3 371.4L81.7 365.4L80.8 360.4L80.3 359.4L78.7 357.4L77.7 355.4L75.9 352.8L63.9 351.5L62 353.4L58.7 357.4L56 361.4L55.1 363.4L54.1 366.4L52.6 373.4L51.9 381L50.5 388.4L49 404.4Z" fill="#00d0ff"/>
<path fill-rule="evenodd" d="M51.9 406.9L82.8 406.9L82.8 404.4L82.4 401.4L81.6 376.4L81.3 371.4L80.6 365.4L79.6 360.4L79 359.4L77.2 357.4L75.9 355.3L63.9 353.9L59.1 359.4L57.7 361.4L56.7 363.4L55.2 367.4L53.9 374.4L52.6 388.4Z" fill="#00e8ff"/>
<path fill-rule="evenodd" d="M52.9 406.9L82 406.9L82 404.4L81.6 401.4L80.9 381.4L80.1 369.4L79.6 365.4L78.4 360.4L77.8 359.4L75.9 357.6L63.9 356.4L61.8 358.4L60.1 360.4L57.9 364.2L56.6 367.4L55.3 374.4L53.9 388.4L52.9 404.4Z" fill="#00fff0"/>
<path fill-rule="evenodd" d="M53.9 406.9L81.2 406.9L81.2 404.4L80.7 401.4L80 381.4L79.2 370.4L78.5 365.4L77.2 360.4L75.9 358.9L63.9 358.3L61.1 361.4L58.8 365.4L58 367.4L56.6 374.4L55.2 388.4L54.4 400.4L53.9 404.4Z" fill="#10f5b8"/>
<path fill-rule="evenodd" d="M54.9 406.9L80.4 406.9L80.4 404.4L79.8 401.4L79.1 382.4L78.4 371.4L77.5 365.4L75.9 360.2L63.9 360.2L61.4 363.4L59.4 367.4L58.4 371.4L58 374.4L56.5 388.4L55.4 402.4L54.9 404.4Z" fill="#20ec78"/>
<path fill-rule="evenodd" d="M55.9 406.9L79.6 406.9L79.6 404.4L79 401.4L78.2 382.4L77.4 371.4L76.4 365.4L75.9 363.6L69.9 362.7L63.9 362.2L62.4 364.4L60.7 367.4L59.8 371.4L57.8 388.4L56.5 402.4L55.9 404.4Z" fill="#20dc10"/>
<path fill-rule="evenodd" d="M56.9 406.9L78.8 406.9L78.8 404.4L78.1 401.4L77.2 381.4L76.3 370.4L75.9 368.2L74.7 367.4L72.7 366.4L69.5 365.4L63.9 364.4L62.1 367.4L61.4 370.4L60.9 373.4L58 400.4L57.7 402.4L56.9 404.4Z" fill="#60e800"/>
<path fill-rule="evenodd" d="M77.9 406.9L77.9 404.4L77.2 401.4L76.4 382.4L75.9 376.5L72.2 371.4L71 370.4L66.4 367.4L63.9 366.7L63.5 367.4L62.5 371.4L59.2 400.4L58.8 402.4L57.9 404.4L57.9 406.9Z" fill="#b0f400"/>
<path fill-rule="evenodd" d="M77.1 406.9L77.1 404.4L76.3 401.4L75.9 393.4L73.8 386.4L72.1 382.4L71.5 381.4L63.9 371.2L60.3 400.4L59.9 402.4L58.9 404.4L58.9 406.9Z" fill="#f0ff00"/>
<path fill-rule="evenodd" d="M76.3 406.9L76.3 404.4L75.9 402.9L73.7 401.4L71.6 396.4L67.8 388.4L66.2 385.4L63.9 381.9L61.5 400.4L61.1 402.4L59.9 404.4L59.9 406.9Z" fill="#fff000"/>
<path fill-rule="evenodd" d="M74.2 406.9L74.2 404.4L70.7 402.4L69.4 401.4L68.6 400.4L66.4 396.4L63.9 392.7L62.7 400.4L62.2 402.4L60.9 404.4L60.9 406.9Z" fill="#ffd800"/>
<path fill-rule="evenodd" d="M61.9 406.9L70.8 406.9L70.8 404.4L68.8 403.4L66.2 402.4L63.9 400.4L63.3 402.4L61.9 404.4Z" fill="#ffb800"/>
<path fill-rule="evenodd" d="M62.9 406.9L67.3 406.9L67.3 404.4L63.9 403.1L62.9 404.4Z" fill="#ff9000"/>
</g></g>
<g clip-path="url(#ch)"><g filter="url(#bl)">
<rect x="208.30" y="281.70" width="137.50" height="125.20" fill="#3d03fd"/>
<path fill-rule="evenodd" d="M208.3 406.9L268 406.9L268 404.4L266.4 403.4L265 402.9L261.7 402.4L259 394.4L257.7 364.4L256.9 353.4L256.3 350.4L255.6 348.4L253.2 344.4L250.7 334.4L246.9 322L245.9 322.4L243.3 324.4L239 328.4L234.9 333.4L233.2 336.4L231.9 338.2L229 341.4L226.7 343.4L222.8 346L220.6 349.4L218.2 354.4L214.8 359.4L210.8 366.6L208.3 366.6Z" fill="#1200ff"/>
<path fill-rule="evenodd" d="M208.3 406.9L265 406.9L265 404.4L262 403.4L259 402.9L258.6 402.4L256.6 381.4L255.1 362.4L254 354.4L253.4 352.4L251.9 349.4L250.2 347.4L247.6 345.4L246.9 344.6L234.9 345.6L229.8 347.4L226.2 349.4L225.1 350.4L222.8 354.4L219.8 357.7L217.9 360.4L214.2 367.4L210.8 374.8L208.3 374.8Z" fill="#0040ff"/>
<path fill-rule="evenodd" d="M208.3 406.9L262 406.9L262 404.4L259 403.7L258 402.4L257.1 398.4L254.6 381.4L252.9 365.4L251.7 357.4L250.7 353.4L248.7 350.4L246.9 348.6L234.9 348.4L231.9 349.5L230 350.4L227.1 354.4L222.8 358.7L221.6 360.4L213.7 376.4L212.3 381.4L210.8 387.4L208.3 387.4Z" fill="#0068ff"/>
<path fill-rule="evenodd" d="M208.3 406.9L259 406.9L259 404.4L257.5 402.4L256.1 398.4L254.4 390.4L252.7 381.4L251.1 369.4L249.6 360.4L248 354.4L246.9 352.6L234.9 350.4L225.7 360.4L223.3 364.4L217.4 376.4L215.6 381.4L212.5 391.4L210.8 398.4L208.3 398.4Z" fill="#0088ff"/>
<path fill-rule="evenodd" d="M208.3 406.9L258.5 406.9L258.5 404.4L256.9 402.4L255.9 400.4L255.1 398.4L252.9 390.4L250.7 381.4L248.9 369.4L246.9 360.1L244.4 358.4L242.2 357.4L239.5 356.4L234.9 355.2L230.1 360.4L225.6 366.4L224 369.4L222.8 372.7L221 376.4L218.9 381.4L212.7 398.4L210.8 401.4L208.3 401.4Z" fill="#00a0ff"/>
<path fill-rule="evenodd" d="M210.8 406.9L257.9 406.9L257.9 404.4L255.1 400.4L254.1 398.4L251.4 390.4L248.8 381.4L247.2 372.4L246.4 369.4L245.5 367.4L243.9 365.5L239.8 362.4L237.9 361.3L234.9 360L231 364.4L228.8 366.4L226.5 369.4L225.4 371.4L224.6 373.4L223.6 376.4L222.8 380.1L219.8 387.4L217.8 391.4L215.7 396.4L214.6 398.4L212.3 401.4L211.2 403.4L210.8 404.4Z" fill="#00b8ff"/>
<path fill-rule="evenodd" d="M211.6 406.9L257.4 406.9L257.4 404.4L254.3 400.4L253.1 398.4L249.9 390.4L248.7 386.4L246.9 381.7L246 376.4L244.7 372.4L243.9 370.8L243 369.4L240.9 367.3L237.9 365.5L234.9 364.4L231.9 366.5L229.9 368.4L228.3 370.4L226.5 373.4L225.3 376.4L223.7 382.4L222.8 387.4L220.4 391.4L217.9 396.4L213 402.4L211.6 404.4Z" fill="#00d0ff"/>
<path fill-rule="evenodd" d="M212.4 406.9L256.9 406.9L256.9 404.4L254.5 401.4L253.5 400.4L252.1 398.4L248.4 390.4L245.7 382.4L244.2 376.4L243.3 374.4L242.2 372.4L240.9 370.7L237.9 368.2L234.9 366.6L231.6 369.4L228.9 372.6L227.3 375.4L226.2 378.4L224.8 383.4L222.8 391.8L220.2 396.4L212.4 404.4Z" fill="#00e8ff"/>
<path fill-rule="evenodd" d="M213.2 406.9L256.4 406.9L256.4 404.4L253.9 401.4L252.6 400.4L251.1 398.4L246.9 390.5L245.7 386.4L243.9 381.4L242.3 376.4L241.8 375.4L239.7 372.4L237.9 370.7L234.9 368.8L231.9 371.4L229.6 374.4L228.5 376.4L226.4 382.4L224 390.4L222.8 395.9L219.2 399.4L214.7 403.4L213.2 404.4Z" fill="#00fff0"/>
<path fill-rule="evenodd" d="M214 406.9L255.8 406.9L255.8 404.4L254.2 402.4L253 401.2L251.8 400.4L250.1 398.4L246.9 392.8L245.9 390.4L244.5 386.4L240.4 376.4L239.1 374.4L237.9 373.1L234.9 370.7L232.2 373.4L230.1 376.4L226.3 386.4L224.7 391.4L223.4 396.4L222.8 397.8L221 399.4L215.9 403.4L214 404.4Z" fill="#10f5b8"/>
<path fill-rule="evenodd" d="M214.8 406.9L255.3 406.9L255.3 404.4L254.6 403.4L253 401.7L251 400.4L249.1 398.4L246.9 394.9L244.9 390.4L243.3 386.4L238.6 376.4L236.9 374.4L234.9 372.6L231.9 376.1L230.7 378.4L226.6 388.4L225.2 392.4L224.2 396.4L222.8 399.4L217 403.4L214.8 404.4Z" fill="#20ec78"/>
<path fill-rule="evenodd" d="M215.6 406.9L254.8 406.9L254.8 404.4L254.1 403.4L251.9 401.4L250.2 400.4L248.1 398.4L246.3 395.4L242.5 387.4L236.7 376.4L234.9 374.5L233.3 376.4L228.5 386.4L226.4 391.4L224.9 396.4L223.6 399.4L222.8 400.5L221.6 401.4L218.2 403.4L215.6 404.4Z" fill="#20dc10"/>
<path fill-rule="evenodd" d="M216.4 406.9L254.3 406.9L254.3 404.4L253.6 403.4L251.2 401.4L249.4 400.4L247.1 398.4L241.4 387.4L234.9 376.4L231.7 382.4L227.7 390.4L226.5 393.4L225.6 396.4L224.4 399.4L222.8 401.5L219.3 403.4L216.4 404.4Z" fill="#60e800"/>
<path fill-rule="evenodd" d="M217.2 406.9L253.7 406.9L253.7 404.4L253 403.4L252 402.4L250.6 401.4L248.6 400.4L246.2 398.4L240.2 387.4L234.9 379.1L228.6 390.4L227.3 393.4L226.4 396.4L225.1 399.4L223.8 401.4L222.8 402.2L220.5 403.4L217.2 404.4Z" fill="#b0f400"/>
<path fill-rule="evenodd" d="M218 406.9L253.2 406.9L253.2 404.4L252.5 403.4L251.4 402.4L249.9 401.4L247.8 400.4L245.3 398.4L242.6 393.4L239.6 388.4L234.9 381.5L231.2 387.4L229 391.4L227.7 394.4L227.1 396.4L225.9 399.4L224.6 401.4L222.8 402.8L221.7 403.4L218 404.4Z" fill="#f0ff00"/>
<path fill-rule="evenodd" d="M218.8 406.9L252.7 406.9L252.7 404.4L252 403.4L250.9 402.4L249.3 401.4L246.9 400.4L244.3 398.4L242.3 394.4L237.8 387.4L234.9 383.5L232.3 387.4L229.9 391.4L228.5 394.4L226.6 399.4L225.4 401.4L222.8 403.4L218.8 404.4Z" fill="#fff000"/>
<path fill-rule="evenodd" d="M219.6 406.9L252.2 406.9L252.2 404.4L251.5 403.4L250.3 402.4L248.6 401.4L245.9 400.4L243.4 398.4L240.8 393.4L236.7 387.4L234.9 385.3L232.7 388.4L230.2 392.4L229.2 394.4L227.4 399.4L226.2 401.4L223.8 403.4L219.6 404.4Z" fill="#ffd800"/>
<path fill-rule="evenodd" d="M220.4 406.9L251.6 406.9L251.6 404.4L250.9 403.4L249.8 402.4L246.9 401L244.8 400.4L242.5 398.4L240.5 394.4L234.9 386.7L231.9 391.1L230 394.4L228.2 399.4L227 401.4L224.8 403.4L220.4 404.4Z" fill="#ffb800"/>
<path fill-rule="evenodd" d="M221.2 406.9L251.1 406.9L251.1 404.4L250.4 403.4L249.2 402.4L246.9 401.2L243.7 400.4L241.6 398.4L239.7 394.4L234.9 388.1L232.5 391.4L230.8 394.4L228.9 399.4L227.8 401.4L225.7 403.4L221.2 404.4Z" fill="#ff9000"/>
<path fill-rule="evenodd" d="M222 406.9L250.6 406.9L250.6 404.4L249.9 403.4L248.7 402.4L246.9 401.5L242.7 400.4L240.7 398.4L238.8 394.4L234.9 389.5L233.4 391.4L231.5 394.4L229.7 399.4L228.6 401.4L226.7 403.4L222 404.4Z" fill="#ff7000"/>
<path fill-rule="evenodd" d="M222.8 406.9L250.1 406.9L250.1 404.4L249.4 403.4L248.1 402.4L246.9 401.8L243.9 401.2L241.6 400.4L239.8 398.4L237.9 394.4L234.9 390.6L232.3 394.4L230.4 399.4L229.5 401.4L227.6 403.4L222.8 404.4Z" fill="#ff4838"/>
<path fill-rule="evenodd" d="M224.4 406.9L249.6 406.9L249.6 404.4L248.9 403.4L246.9 402.1L243.3 401.4L240.5 400.4L238.9 398.4L237.6 395.4L237 394.4L234.9 391.8L233 394.4L232.6 395.4L231.2 399.4L230.3 401.4L228.6 403.4L224.4 404.4Z" fill="#f51818"/>
<path fill-rule="evenodd" d="M225.9 406.9L249 406.9L249 404.4L248.3 403.4L246.9 402.4L241.8 401.4L239.5 400.4L238 398.4L236.8 395.4L234.9 392.9L233.3 395.4L232 399.4L231.1 401.4L229.6 403.4L225.9 404.4Z" fill="#e20c0c"/>
<path fill-rule="evenodd" d="M227.4 406.9L248.5 406.9L248.5 404.4L247.8 403.4L246.9 402.7L240.9 401.6L238.4 400.4L237.1 398.4L235.9 395.4L234.9 394L234 395.4L232.7 399.4L231.3 402.4L230.5 403.4L227.4 404.4Z" fill="#cc0606"/>
<path fill-rule="evenodd" d="M228.9 406.9L248 406.9L248 404.4L246.9 403.1L240.9 402.1L238.9 401.4L237.3 400.4L236.7 399.4L234.9 395.2L233.1 400.4L231.5 403.4L228.9 404.4Z" fill="#b00000"/>
</g></g>
<g clip-path="url(#ci)"><g filter="url(#bl)">
<rect x="379.40" y="281.70" width="136.90" height="125.20" fill="#3d03fd"/>
<path fill-rule="evenodd" d="M379.4 406.9L424.5 406.9L424.5 404.4L425.3 397.4L425.9 387.4L427 384.4L427.4 382.4L428.3 370.4L428.6 357.4L428.6 340.4L427.9 332.4L427.2 328.4L426.3 324.4L425.4 317.4L424.4 314.4L423.4 312.4L421.8 293.4L420.6 284.4L420.6 281.7L405.3 281.7L405.3 284.4L400.6 316.4L398.2 324.4L395.2 332.4L393.9 338.4L391 339.4L389.1 340.4L386.9 342.4L384.4 346.4L381.9 354.4L379.4 354.4L379.4 383.8L381.9 383.8L383 385.4L384.1 386.4L385.7 387.4L387.9 388.2L390.9 389L393.9 389.4L393.4 391.4L392.6 393.4L391 395.4L389.7 396.4L387.9 397.2L384.9 398L381.9 398.4L379.4 398.4Z" fill="#1200ff"/>
<path fill-rule="evenodd" d="M405.9 390.1L414.9 388.9L416.3 388.4L421.4 384.4L422.9 382.4L424.3 379.4L425.2 376.4L426.5 370.4L427.1 363.4L427.5 352.4L427.3 341.4L426.8 336.4L426 332.4L425.1 329.4L423.1 324.4L421.5 317.4L419.7 314.4L417.9 312.4L411.9 312.9L409.6 313.4L407.4 314.4L406.4 315.4L402.2 324.4L400.1 327.4L397.3 332.4L396.2 335.4L395.5 338.4L393.9 341.1L391.6 342.4L390.3 343.4L387.6 346.4L385.2 352.4L384.8 354.4L383.7 362.4L383.9 366.4L384.3 370.4L385 374.4L386.1 376.4L387.3 378.4L388.9 380.4L391.6 383.4L393.9 385.4L405.1 389.4Z" fill="#0040ff"/>
<path fill-rule="evenodd" d="M405.9 385.4L416 383.4L417.9 382.9L420.3 380.4L422.1 377.4L424.3 371.4L425 368.4L425.7 363.4L426.2 352.4L426.1 345.4L425.7 339.4L425 335.4L424.1 332.4L422.4 328.4L419.9 324.4L417.9 317.9L414.4 320.4L411.2 322.4L407.2 324.4L405.9 324.8L402.9 327.7L400.1 331.4L398.9 333.4L397.9 335.4L397 338.4L393.9 343.7L390.7 346.4L387.9 352.4L387.4 359.4L387.4 362.4L387.9 366.4L388.8 369.4L390.2 372.4L392.1 375.4L393.9 377.4L395.4 379.4L397.4 381.4L400.3 383.4L402.9 384.5Z" fill="#0068ff"/>
<path fill-rule="evenodd" d="M405.9 382.4L411.9 381L417.9 379.2L419.9 376.4L421.9 372.4L422.8 370.4L423.7 366.4L424.5 361.4L425 352.4L424.6 341.4L423.6 336.4L422.6 333.4L420.6 329.4L419.2 327.4L417.9 325.9L405.9 327.7L401.6 332.4L400.3 334.4L398.6 338.4L392.7 348.4L390.6 352.4L390.6 359.4L391.4 364.4L391.9 366.4L395.6 373.4L396.9 375.4L398.5 377.4L400.6 379.4L402 380.4Z" fill="#0088ff"/>
<path fill-rule="evenodd" d="M405.9 379.4L417.9 375.5L419.9 372.4L420.9 370.4L422.6 364.4L423.6 357.4L423.8 352.4L423.7 346.4L423.3 341.4L421.7 335.4L420.2 332.4L417.9 328.9L405.9 330.4L404.7 331.4L402.9 333.4L401.5 335.4L400.1 338.4L397.1 343.4L395.5 346.4L393.9 351.4L393.3 352.4L394.2 361.4L394.9 365.4L395.6 367.4L397.3 370.4L400.1 374.4L402.9 377.2Z" fill="#00a0ff"/>
<path fill-rule="evenodd" d="M405.9 376L413.9 373.4L417.9 372.3L419.5 369.4L421.4 363.4L422.3 357.4L422.6 352.4L422.4 346.4L421.9 341.4L420.9 337.6L420 335.4L417.9 331.8L405.9 332.4L403.2 335.4L401.7 338.4L398.6 343.4L397.1 346.4L395.2 352.4L396 360.4L396.7 363.4L397.8 366.4L399.7 369.4L402.1 372.4L404 374.4Z" fill="#00b8ff"/>
<path fill-rule="evenodd" d="M405.9 372.6L417.9 369L420 363.4L421 357.4L421.4 352.4L421.1 346.4L420.6 341.4L418.9 336.4L417.9 334.5L405.9 334.4L405 335.4L400 343.4L398.6 346.4L396.9 352.4L397.2 356.4L398.1 361.4L399.3 364.4L400.4 366.4L402.7 369.4Z" fill="#00d0ff"/>
<path fill-rule="evenodd" d="M405.9 369.5L411.9 367.7L415.4 366.4L417.9 365.3L418.6 363.4L419.8 357.4L420.2 352.4L419.9 346.4L419.2 341.4L417.9 337.7L405.9 336.7L401.5 343.4L400.2 346.4L398.6 352.4L398.9 356.4L399.5 359.4L400.1 361.4L402.2 365.4L403.8 367.4Z" fill="#00e8ff"/>
<path fill-rule="evenodd" d="M405.9 366.8L409.8 365.4L414.3 363.4L415.7 362.4L417.9 360.4L418.5 357.4L419 352.4L418.6 346.4L417.9 341.4L411.9 340L405.9 339.2L403 343.4L401.1 348.4L400.2 352.4L400.7 356.4L402.1 361.4L403.9 364.4Z" fill="#00fff0"/>
<path fill-rule="evenodd" d="M405.9 364L408.9 362.7L411.1 361.4L413.3 359.4L415.3 357.4L417.4 352.4L416.3 348.4L415.5 346.4L413.6 344.4L411.9 343.1L408.9 342.1L405.9 341.4L404.5 343.4L402.7 348.4L401.9 352.4L402.4 356.4L403.3 359.4L404.1 361.4Z" fill="#10f5b8"/>
<path fill-rule="evenodd" d="M405.9 361L408.9 358.5L410.8 356.4L412.6 352.4L411.1 348.4L409.4 346.4L407 344.4L405.9 343.8L404.3 348.4L403.6 352.4L404.1 356.4Z" fill="#20ec78"/>
<path fill-rule="evenodd" d="M405.9 356.4L407.8 352.4L405.9 348.4L405.2 352.4Z" fill="#20dc10"/>
</g></g>
<rect x="39.90" y="7.40" width="132.00" height="119.90" fill="none" stroke="#222" stroke-width="0.45" stroke-opacity="0.75"/>
<line x1="38.10" y1="16.20" x2="39.90" y2="16.20" stroke="#333" stroke-width="0.6"/>
<text x="36.50" y="19.20" class="tk">500</text>
<line x1="38.10" y1="44.40" x2="39.90" y2="44.40" stroke="#333" stroke-width="0.6"/>
<text x="36.50" y="47.40" class="tk">600</text>
<line x1="38.10" y1="68.50" x2="39.90" y2="68.50" stroke="#333" stroke-width="0.6"/>
<text x="36.50" y="71.50" class="tk">700</text>
<line x1="38.10" y1="90.60" x2="39.90" y2="90.60" stroke="#333" stroke-width="0.6"/>
<text x="36.50" y="93.60" class="tk">800</text>
<line x1="38.10" y1="110.20" x2="39.90" y2="110.20" stroke="#333" stroke-width="0.6"/>
<text x="36.50" y="113.20" class="tk">900</text>
<line x1="38.10" y1="126.80" x2="39.90" y2="126.80" stroke="#333" stroke-width="0.6"/>
<text x="36.50" y="129.80" class="tk">990</text>
<line x1="39.90" y1="127.30" x2="39.90" y2="128.90" stroke="#333" stroke-width="0.6"/>
<text x="39.90" y="136.30" class="mo">J</text>
<line x1="51.90" y1="127.30" x2="51.90" y2="128.90" stroke="#333" stroke-width="0.6"/>
<text x="51.90" y="136.30" class="mo">F</text>
<line x1="63.90" y1="127.30" x2="63.90" y2="128.90" stroke="#333" stroke-width="0.6"/>
<text x="63.90" y="136.30" class="mo">M</text>
<line x1="75.90" y1="127.30" x2="75.90" y2="128.90" stroke="#333" stroke-width="0.6"/>
<text x="75.90" y="136.30" class="mo">A</text>
<line x1="87.90" y1="127.30" x2="87.90" y2="128.90" stroke="#333" stroke-width="0.6"/>
<text x="87.90" y="136.30" class="mo">M</text>
<line x1="99.90" y1="127.30" x2="99.90" y2="128.90" stroke="#333" stroke-width="0.6"/>
<text x="99.90" y="136.30" class="mo">J</text>
<line x1="111.90" y1="127.30" x2="111.90" y2="128.90" stroke="#333" stroke-width="0.6"/>
<text x="111.90" y="136.30" class="mo">J</text>
<line x1="123.90" y1="127.30" x2="123.90" y2="128.90" stroke="#333" stroke-width="0.6"/>
<text x="123.90" y="136.30" class="mo">A</text>
<line x1="135.90" y1="127.30" x2="135.90" y2="128.90" stroke="#333" stroke-width="0.6"/>
<text x="135.90" y="136.30" class="mo">S</text>
<line x1="147.90" y1="127.30" x2="147.90" y2="128.90" stroke="#333" stroke-width="0.6"/>
<text x="147.90" y="136.30" class="mo">O</text>
<line x1="159.90" y1="127.30" x2="159.90" y2="128.90" stroke="#333" stroke-width="0.6"/>
<text x="159.90" y="136.30" class="mo">N</text>
<line x1="171.90" y1="127.30" x2="171.90" y2="128.90" stroke="#333" stroke-width="0.6"/>
<text x="171.90" y="136.30" class="mo">D</text>
<text x="6.70" y="13.60" class="lb">(a)</text>
<text transform="translate(19.60 67.05) rotate(-90)" class="yl">Pressure(hPa)</text>
<rect x="210.80" y="7.70" width="132.50" height="119.60" fill="none" stroke="#222" stroke-width="0.45" stroke-opacity="0.75"/>
<line x1="209.00" y1="16.20" x2="210.80" y2="16.20" stroke="#333" stroke-width="0.6"/>
<text x="207.40" y="19.20" class="tk">500</text>
<line x1="209.00" y1="44.40" x2="210.80" y2="44.40" stroke="#333" stroke-width="0.6"/>
<text x="207.40" y="47.40" class="tk">600</text>
<line x1="209.00" y1="68.50" x2="210.80" y2="68.50" stroke="#333" stroke-width="0.6"/>
<text x="207.40" y="71.50" class="tk">700</text>
<line x1="209.00" y1="90.60" x2="210.80" y2="90.60" stroke="#333" stroke-width="0.6"/>
<text x="207.40" y="93.60" class="tk">800</text>
<line x1="209.00" y1="110.20" x2="210.80" y2="110.20" stroke="#333" stroke-width="0.6"/>
<text x="207.40" y="113.20" class="tk">900</text>
<line x1="209.00" y1="126.80" x2="210.80" y2="126.80" stroke="#333" stroke-width="0.6"/>
<text x="207.40" y="129.80" class="tk">990</text>
<line x1="210.80" y1="127.30" x2="210.80" y2="128.90" stroke="#333" stroke-width="0.6"/>
<text x="210.80" y="136.30" class="mo">J</text>
<line x1="222.85" y1="127.30" x2="222.85" y2="128.90" stroke="#333" stroke-width="0.6"/>
<text x="222.85" y="136.30" class="mo">F</text>
<line x1="234.89" y1="127.30" x2="234.89" y2="128.90" stroke="#333" stroke-width="0.6"/>
<text x="234.89" y="136.30" class="mo">M</text>
<line x1="246.94" y1="127.30" x2="246.94" y2="128.90" stroke="#333" stroke-width="0.6"/>
<text x="246.94" y="136.30" class="mo">A</text>
<line x1="258.98" y1="127.30" x2="258.98" y2="128.90" stroke="#333" stroke-width="0.6"/>
<text x="258.98" y="136.30" class="mo">M</text>
<line x1="271.03" y1="127.30" x2="271.03" y2="128.90" stroke="#333" stroke-width="0.6"/>
<text x="271.03" y="136.30" class="mo">J</text>
<line x1="283.07" y1="127.30" x2="283.07" y2="128.90" stroke="#333" stroke-width="0.6"/>
<text x="283.07" y="136.30" class="mo">J</text>
<line x1="295.12" y1="127.30" x2="295.12" y2="128.90" stroke="#333" stroke-width="0.6"/>
<text x="295.12" y="136.30" class="mo">A</text>
<line x1="307.16" y1="127.30" x2="307.16" y2="128.90" stroke="#333" stroke-width="0.6"/>
<text x="307.16" y="136.30" class="mo">S</text>
<line x1="319.21" y1="127.30" x2="319.21" y2="128.90" stroke="#333" stroke-width="0.6"/>
<text x="319.21" y="136.30" class="mo">O</text>
<line x1="331.25" y1="127.30" x2="331.25" y2="128.90" stroke="#333" stroke-width="0.6"/>
<text x="331.25" y="136.30" class="mo">N</text>
<line x1="343.30" y1="127.30" x2="343.30" y2="128.90" stroke="#333" stroke-width="0.6"/>
<text x="343.30" y="136.30" class="mo">D</text>
<text x="177.60" y="13.90" class="lb">(b)</text>
<text transform="translate(190.50 67.20) rotate(-90)" class="yl">Pressure(hPa)</text>
<rect x="381.90" y="8.20" width="131.10" height="119.10" fill="none" stroke="#222" stroke-width="0.45" stroke-opacity="0.75"/>
<line x1="380.10" y1="16.20" x2="381.90" y2="16.20" stroke="#333" stroke-width="0.6"/>
<text x="378.50" y="19.20" class="tk">500</text>
<line x1="380.10" y1="44.40" x2="381.90" y2="44.40" stroke="#333" stroke-width="0.6"/>
<text x="378.50" y="47.40" class="tk">600</text>
<line x1="380.10" y1="68.50" x2="381.90" y2="68.50" stroke="#333" stroke-width="0.6"/>
<text x="378.50" y="71.50" class="tk">700</text>
<line x1="380.10" y1="90.60" x2="381.90" y2="90.60" stroke="#333" stroke-width="0.6"/>
<text x="378.50" y="93.60" class="tk">800</text>
<line x1="380.10" y1="110.20" x2="381.90" y2="110.20" stroke="#333" stroke-width="0.6"/>
<text x="378.50" y="113.20" class="tk">900</text>
<line x1="380.10" y1="126.80" x2="381.90" y2="126.80" stroke="#333" stroke-width="0.6"/>
<text x="378.50" y="129.80" class="tk">990</text>
<line x1="381.90" y1="127.30" x2="381.90" y2="128.90" stroke="#333" stroke-width="0.6"/>
<text x="381.90" y="136.30" class="mo">J</text>
<line x1="393.82" y1="127.30" x2="393.82" y2="128.90" stroke="#333" stroke-width="0.6"/>
<text x="393.82" y="136.30" class="mo">F</text>
<line x1="405.74" y1="127.30" x2="405.74" y2="128.90" stroke="#333" stroke-width="0.6"/>
<text x="405.74" y="136.30" class="mo">M</text>
<line x1="417.65" y1="127.30" x2="417.65" y2="128.90" stroke="#333" stroke-width="0.6"/>
<text x="417.65" y="136.30" class="mo">A</text>
<line x1="429.57" y1="127.30" x2="429.57" y2="128.90" stroke="#333" stroke-width="0.6"/>
<text x="429.57" y="136.30" class="mo">M</text>
<line x1="441.49" y1="127.30" x2="441.49" y2="128.90" stroke="#333" stroke-width="0.6"/>
<text x="441.49" y="136.30" class="mo">J</text>
<line x1="453.41" y1="127.30" x2="453.41" y2="128.90" stroke="#333" stroke-width="0.6"/>
<text x="453.41" y="136.30" class="mo">J</text>
<line x1="465.33" y1="127.30" x2="465.33" y2="128.90" stroke="#333" stroke-width="0.6"/>
<text x="465.33" y="136.30" class="mo">A</text>
<line x1="477.25" y1="127.30" x2="477.25" y2="128.90" stroke="#333" stroke-width="0.6"/>
<text x="477.25" y="136.30" class="mo">S</text>
<line x1="489.16" y1="127.30" x2="489.16" y2="128.90" stroke="#333" stroke-width="0.6"/>
<text x="489.16" y="136.30" class="mo">O</text>
<line x1="501.08" y1="127.30" x2="501.08" y2="128.90" stroke="#333" stroke-width="0.6"/>
<text x="501.08" y="136.30" class="mo">N</text>
<line x1="513.00" y1="127.30" x2="513.00" y2="128.90" stroke="#333" stroke-width="0.6"/>
<text x="513.00" y="136.30" class="mo">D</text>
<text x="348.70" y="14.40" class="lb">(c)</text>
<text transform="translate(361.60 67.45) rotate(-90)" class="yl">Pressure(hPa)</text>
<rect x="39.90" y="145.60" width="132.00" height="120.00" fill="none" stroke="#222" stroke-width="0.45" stroke-opacity="0.75"/>
<line x1="38.10" y1="154.50" x2="39.90" y2="154.50" stroke="#333" stroke-width="0.6"/>
<text x="36.50" y="157.50" class="tk">500</text>
<line x1="38.10" y1="182.70" x2="39.90" y2="182.70" stroke="#333" stroke-width="0.6"/>
<text x="36.50" y="185.70" class="tk">600</text>
<line x1="38.10" y1="206.80" x2="39.90" y2="206.80" stroke="#333" stroke-width="0.6"/>
<text x="36.50" y="209.80" class="tk">700</text>
<line x1="38.10" y1="228.90" x2="39.90" y2="228.90" stroke="#333" stroke-width="0.6"/>
<text x="36.50" y="231.90" class="tk">800</text>
<line x1="38.10" y1="248.50" x2="39.90" y2="248.50" stroke="#333" stroke-width="0.6"/>
<text x="36.50" y="251.50" class="tk">900</text>
<line x1="38.10" y1="265.10" x2="39.90" y2="265.10" stroke="#333" stroke-width="0.6"/>
<text x="36.50" y="268.10" class="tk">990</text>
<line x1="39.90" y1="265.60" x2="39.90" y2="267.20" stroke="#333" stroke-width="0.6"/>
<text x="39.90" y="274.60" class="mo">J</text>
<line x1="51.90" y1="265.60" x2="51.90" y2="267.20" stroke="#333" stroke-width="0.6"/>
<text x="51.90" y="274.60" class="mo">F</text>
<line x1="63.90" y1="265.60" x2="63.90" y2="267.20" stroke="#333" stroke-width="0.6"/>
<text x="63.90" y="274.60" class="mo">M</text>
<line x1="75.90" y1="265.60" x2="75.90" y2="267.20" stroke="#333" stroke-width="0.6"/>
<text x="75.90" y="274.60" class="mo">A</text>
<line x1="87.90" y1="265.60" x2="87.90" y2="267.20" stroke="#333" stroke-width="0.6"/>
<text x="87.90" y="274.60" class="mo">M</text>
<line x1="99.90" y1="265.60" x2="99.90" y2="267.20" stroke="#333" stroke-width="0.6"/>
<text x="99.90" y="274.60" class="mo">J</text>
<line x1="111.90" y1="265.60" x2="111.90" y2="267.20" stroke="#333" stroke-width="0.6"/>
<text x="111.90" y="274.60" class="mo">J</text>
<line x1="123.90" y1="265.60" x2="123.90" y2="267.20" stroke="#333" stroke-width="0.6"/>
<text x="123.90" y="274.60" class="mo">A</text>
<line x1="135.90" y1="265.60" x2="135.90" y2="267.20" stroke="#333" stroke-width="0.6"/>
<text x="135.90" y="274.60" class="mo">S</text>
<line x1="147.90" y1="265.60" x2="147.90" y2="267.20" stroke="#333" stroke-width="0.6"/>
<text x="147.90" y="274.60" class="mo">O</text>
<line x1="159.90" y1="265.60" x2="159.90" y2="267.20" stroke="#333" stroke-width="0.6"/>
<text x="159.90" y="274.60" class="mo">N</text>
<line x1="171.90" y1="265.60" x2="171.90" y2="267.20" stroke="#333" stroke-width="0.6"/>
<text x="171.90" y="274.60" class="mo">D</text>
<text x="6.70" y="151.80" class="lb">(d)</text>
<text transform="translate(19.60 205.30) rotate(-90)" class="yl">Pressure(hPa)</text>
<rect x="210.80" y="145.60" width="132.50" height="120.00" fill="none" stroke="#222" stroke-width="0.45" stroke-opacity="0.75"/>
<line x1="209.00" y1="154.50" x2="210.80" y2="154.50" stroke="#333" stroke-width="0.6"/>
<text x="207.40" y="157.50" class="tk">500</text>
<line x1="209.00" y1="182.70" x2="210.80" y2="182.70" stroke="#333" stroke-width="0.6"/>
<text x="207.40" y="185.70" class="tk">600</text>
<line x1="209.00" y1="206.80" x2="210.80" y2="206.80" stroke="#333" stroke-width="0.6"/>
<text x="207.40" y="209.80" class="tk">700</text>
<line x1="209.00" y1="228.90" x2="210.80" y2="228.90" stroke="#333" stroke-width="0.6"/>
<text x="207.40" y="231.90" class="tk">800</text>
<line x1="209.00" y1="248.50" x2="210.80" y2="248.50" stroke="#333" stroke-width="0.6"/>
<text x="207.40" y="251.50" class="tk">900</text>
<line x1="209.00" y1="265.10" x2="210.80" y2="265.10" stroke="#333" stroke-width="0.6"/>
<text x="207.40" y="268.10" class="tk">990</text>
<line x1="210.80" y1="265.60" x2="210.80" y2="267.20" stroke="#333" stroke-width="0.6"/>
<text x="210.80" y="274.60" class="mo">J</text>
<line x1="222.85" y1="265.60" x2="222.85" y2="267.20" stroke="#333" stroke-width="0.6"/>
<text x="222.85" y="274.60" class="mo">F</text>
<line x1="234.89" y1="265.60" x2="234.89" y2="267.20" stroke="#333" stroke-width="0.6"/>
<text x="234.89" y="274.60" class="mo">M</text>
<line x1="246.94" y1="265.60" x2="246.94" y2="267.20" stroke="#333" stroke-width="0.6"/>
<text x="246.94" y="274.60" class="mo">A</text>
<line x1="258.98" y1="265.60" x2="258.98" y2="267.20" stroke="#333" stroke-width="0.6"/>
<text x="258.98" y="274.60" class="mo">M</text>
<line x1="271.03" y1="265.60" x2="271.03" y2="267.20" stroke="#333" stroke-width="0.6"/>
<text x="271.03" y="274.60" class="mo">J</text>
<line x1="283.07" y1="265.60" x2="283.07" y2="267.20" stroke="#333" stroke-width="0.6"/>
<text x="283.07" y="274.60" class="mo">J</text>
<line x1="295.12" y1="265.60" x2="295.12" y2="267.20" stroke="#333" stroke-width="0.6"/>
<text x="295.12" y="274.60" class="mo">A</text>
<line x1="307.16" y1="265.60" x2="307.16" y2="267.20" stroke="#333" stroke-width="0.6"/>
<text x="307.16" y="274.60" class="mo">S</text>
<line x1="319.21" y1="265.60" x2="319.21" y2="267.20" stroke="#333" stroke-width="0.6"/>
<text x="319.21" y="274.60" class="mo">O</text>
<line x1="331.25" y1="265.60" x2="331.25" y2="267.20" stroke="#333" stroke-width="0.6"/>
<text x="331.25" y="274.60" class="mo">N</text>
<line x1="343.30" y1="265.60" x2="343.30" y2="267.20" stroke="#333" stroke-width="0.6"/>
<text x="343.30" y="274.60" class="mo">D</text>
<text x="177.60" y="151.80" class="lb">(e)</text>
<text transform="translate(190.50 205.30) rotate(-90)" class="yl">Pressure(hPa)</text>
<rect x="381.90" y="145.60" width="131.90" height="120.00" fill="none" stroke="#222" stroke-width="0.45" stroke-opacity="0.75"/>
<line x1="380.10" y1="154.50" x2="381.90" y2="154.50" stroke="#333" stroke-width="0.6"/>
<text x="378.50" y="157.50" class="tk">500</text>
<line x1="380.10" y1="182.70" x2="381.90" y2="182.70" stroke="#333" stroke-width="0.6"/>
<text x="378.50" y="185.70" class="tk">600</text>
<line x1="380.10" y1="206.80" x2="381.90" y2="206.80" stroke="#333" stroke-width="0.6"/>
<text x="378.50" y="209.80" class="tk">700</text>
<line x1="380.10" y1="228.90" x2="381.90" y2="228.90" stroke="#333" stroke-width="0.6"/>
<text x="378.50" y="231.90" class="tk">800</text>
<line x1="380.10" y1="248.50" x2="381.90" y2="248.50" stroke="#333" stroke-width="0.6"/>
<text x="378.50" y="251.50" class="tk">900</text>
<line x1="380.10" y1="265.10" x2="381.90" y2="265.10" stroke="#333" stroke-width="0.6"/>
<text x="378.50" y="268.10" class="tk">990</text>
<line x1="381.90" y1="265.60" x2="381.90" y2="267.20" stroke="#333" stroke-width="0.6"/>
<text x="381.90" y="274.60" class="mo">J</text>
<line x1="393.89" y1="265.60" x2="393.89" y2="267.20" stroke="#333" stroke-width="0.6"/>
<text x="393.89" y="274.60" class="mo">F</text>
<line x1="405.88" y1="265.60" x2="405.88" y2="267.20" stroke="#333" stroke-width="0.6"/>
<text x="405.88" y="274.60" class="mo">M</text>
<line x1="417.87" y1="265.60" x2="417.87" y2="267.20" stroke="#333" stroke-width="0.6"/>
<text x="417.87" y="274.60" class="mo">A</text>
<line x1="429.86" y1="265.60" x2="429.86" y2="267.20" stroke="#333" stroke-width="0.6"/>
<text x="429.86" y="274.60" class="mo">M</text>
<line x1="441.85" y1="265.60" x2="441.85" y2="267.20" stroke="#333" stroke-width="0.6"/>
<text x="441.85" y="274.60" class="mo">J</text>
<line x1="453.85" y1="265.60" x2="453.85" y2="267.20" stroke="#333" stroke-width="0.6"/>
<text x="453.85" y="274.60" class="mo">J</text>
<line x1="465.84" y1="265.60" x2="465.84" y2="267.20" stroke="#333" stroke-width="0.6"/>
<text x="465.84" y="274.60" class="mo">A</text>
<line x1="477.83" y1="265.60" x2="477.83" y2="267.20" stroke="#333" stroke-width="0.6"/>
<text x="477.83" y="274.60" class="mo">S</text>
<line x1="489.82" y1="265.60" x2="489.82" y2="267.20" stroke="#333" stroke-width="0.6"/>
<text x="489.82" y="274.60" class="mo">O</text>
<line x1="501.81" y1="265.60" x2="501.81" y2="267.20" stroke="#333" stroke-width="0.6"/>
<text x="501.81" y="274.60" class="mo">N</text>
<line x1="513.80" y1="265.60" x2="513.80" y2="267.20" stroke="#333" stroke-width="0.6"/>
<text x="513.80" y="274.60" class="mo">D</text>
<text x="348.70" y="151.80" class="lb">(f)</text>
<text transform="translate(361.60 205.30) rotate(-90)" class="yl">Pressure(hPa)</text>
<rect x="39.90" y="284.20" width="132.00" height="120.20" fill="none" stroke="#222" stroke-width="0.45" stroke-opacity="0.75"/>
<line x1="38.10" y1="293.30" x2="39.90" y2="293.30" stroke="#333" stroke-width="0.6"/>
<text x="36.50" y="296.30" class="tk">500</text>
<line x1="38.10" y1="321.50" x2="39.90" y2="321.50" stroke="#333" stroke-width="0.6"/>
<text x="36.50" y="324.50" class="tk">600</text>
<line x1="38.10" y1="345.60" x2="39.90" y2="345.60" stroke="#333" stroke-width="0.6"/>
<text x="36.50" y="348.60" class="tk">700</text>
<line x1="38.10" y1="367.70" x2="39.90" y2="367.70" stroke="#333" stroke-width="0.6"/>
<text x="36.50" y="370.70" class="tk">800</text>
<line x1="38.10" y1="387.30" x2="39.90" y2="387.30" stroke="#333" stroke-width="0.6"/>
<text x="36.50" y="390.30" class="tk">900</text>
<line x1="38.10" y1="403.90" x2="39.90" y2="403.90" stroke="#333" stroke-width="0.6"/>
<text x="36.50" y="406.90" class="tk">990</text>
<line x1="39.90" y1="404.40" x2="39.90" y2="406.00" stroke="#333" stroke-width="0.6"/>
<text x="39.90" y="413.40" class="mo">J</text>
<line x1="51.90" y1="404.40" x2="51.90" y2="406.00" stroke="#333" stroke-width="0.6"/>
<text x="51.90" y="413.40" class="mo">F</text>
<line x1="63.90" y1="404.40" x2="63.90" y2="406.00" stroke="#333" stroke-width="0.6"/>
<text x="63.90" y="413.40" class="mo">M</text>
<line x1="75.90" y1="404.40" x2="75.90" y2="406.00" stroke="#333" stroke-width="0.6"/>
<text x="75.90" y="413.40" class="mo">A</text>
<line x1="87.90" y1="404.40" x2="87.90" y2="406.00" stroke="#333" stroke-width="0.6"/>
<text x="87.90" y="413.40" class="mo">M</text>
<line x1="99.90" y1="404.40" x2="99.90" y2="406.00" stroke="#333" stroke-width="0.6"/>
<text x="99.90" y="413.40" class="mo">J</text>
<line x1="111.90" y1="404.40" x2="111.90" y2="406.00" stroke="#333" stroke-width="0.6"/>
<text x="111.90" y="413.40" class="mo">J</text>
<line x1="123.90" y1="404.40" x2="123.90" y2="406.00" stroke="#333" stroke-width="0.6"/>
<text x="123.90" y="413.40" class="mo">A</text>
<line x1="135.90" y1="404.40" x2="135.90" y2="406.00" stroke="#333" stroke-width="0.6"/>
<text x="135.90" y="413.40" class="mo">S</text>
<line x1="147.90" y1="404.40" x2="147.90" y2="406.00" stroke="#333" stroke-width="0.6"/>
<text x="147.90" y="413.40" class="mo">O</text>
<line x1="159.90" y1="404.40" x2="159.90" y2="406.00" stroke="#333" stroke-width="0.6"/>
<text x="159.90" y="413.40" class="mo">N</text>
<line x1="171.90" y1="404.40" x2="171.90" y2="406.00" stroke="#333" stroke-width="0.6"/>
<text x="171.90" y="413.40" class="mo">D</text>
<text x="6.70" y="290.40" class="lb">(g)</text>
<text transform="translate(19.60 344.00) rotate(-90)" class="yl">Pressure(hPa)</text>
<rect x="210.80" y="284.20" width="132.50" height="120.20" fill="none" stroke="#222" stroke-width="0.45" stroke-opacity="0.75"/>
<line x1="209.00" y1="293.30" x2="210.80" y2="293.30" stroke="#333" stroke-width="0.6"/>
<text x="207.40" y="296.30" class="tk">500</text>
<line x1="209.00" y1="321.50" x2="210.80" y2="321.50" stroke="#333" stroke-width="0.6"/>
<text x="207.40" y="324.50" class="tk">600</text>
<line x1="209.00" y1="345.60" x2="210.80" y2="345.60" stroke="#333" stroke-width="0.6"/>
<text x="207.40" y="348.60" class="tk">700</text>
<line x1="209.00" y1="367.70" x2="210.80" y2="367.70" stroke="#333" stroke-width="0.6"/>
<text x="207.40" y="370.70" class="tk">800</text>
<line x1="209.00" y1="387.30" x2="210.80" y2="387.30" stroke="#333" stroke-width="0.6"/>
<text x="207.40" y="390.30" class="tk">900</text>
<line x1="209.00" y1="403.90" x2="210.80" y2="403.90" stroke="#333" stroke-width="0.6"/>
<text x="207.40" y="406.90" class="tk">990</text>
<line x1="210.80" y1="404.40" x2="210.80" y2="406.00" stroke="#333" stroke-width="0.6"/>
<text x="210.80" y="413.40" class="mo">J</text>
<line x1="222.85" y1="404.40" x2="222.85" y2="406.00" stroke="#333" stroke-width="0.6"/>
<text x="222.85" y="413.40" class="mo">F</text>
<line x1="234.89" y1="404.40" x2="234.89" y2="406.00" stroke="#333" stroke-width="0.6"/>
<text x="234.89" y="413.40" class="mo">M</text>
<line x1="246.94" y1="404.40" x2="246.94" y2="406.00" stroke="#333" stroke-width="0.6"/>
<text x="246.94" y="413.40" class="mo">A</text>
<line x1="258.98" y1="404.40" x2="258.98" y2="406.00" stroke="#333" stroke-width="0.6"/>
<text x="258.98" y="413.40" class="mo">M</text>
<line x1="271.03" y1="404.40" x2="271.03" y2="406.00" stroke="#333" stroke-width="0.6"/>
<text x="271.03" y="413.40" class="mo">J</text>
<line x1="283.07" y1="404.40" x2="283.07" y2="406.00" stroke="#333" stroke-width="0.6"/>
<text x="283.07" y="413.40" class="mo">J</text>
<line x1="295.12" y1="404.40" x2="295.12" y2="406.00" stroke="#333" stroke-width="0.6"/>
<text x="295.12" y="413.40" class="mo">A</text>
<line x1="307.16" y1="404.40" x2="307.16" y2="406.00" stroke="#333" stroke-width="0.6"/>
<text x="307.16" y="413.40" class="mo">S</text>
<line x1="319.21" y1="404.40" x2="319.21" y2="406.00" stroke="#333" stroke-width="0.6"/>
<text x="319.21" y="413.40" class="mo">O</text>
<line x1="331.25" y1="404.40" x2="331.25" y2="406.00" stroke="#333" stroke-width="0.6"/>
<text x="331.25" y="413.40" class="mo">N</text>
<line x1="343.30" y1="404.40" x2="343.30" y2="406.00" stroke="#333" stroke-width="0.6"/>
<text x="343.30" y="413.40" class="mo">D</text>
<text x="177.60" y="290.40" class="lb">(h)</text>
<text transform="translate(190.50 344.00) rotate(-90)" class="yl">Pressure(hPa)</text>
<rect x="381.90" y="284.20" width="131.90" height="120.20" fill="none" stroke="#222" stroke-width="0.45" stroke-opacity="0.75"/>
<line x1="380.10" y1="293.30" x2="381.90" y2="293.30" stroke="#333" stroke-width="0.6"/>
<text x="378.50" y="296.30" class="tk">500</text>
<line x1="380.10" y1="321.50" x2="381.90" y2="321.50" stroke="#333" stroke-width="0.6"/>
<text x="378.50" y="324.50" class="tk">600</text>
<line x1="380.10" y1="345.60" x2="381.90" y2="345.60" stroke="#333" stroke-width="0.6"/>
<text x="378.50" y="348.60" class="tk">700</text>
<line x1="380.10" y1="367.70" x2="381.90" y2="367.70" stroke="#333" stroke-width="0.6"/>
<text x="378.50" y="370.70" class="tk">800</text>
<line x1="380.10" y1="387.30" x2="381.90" y2="387.30" stroke="#333" stroke-width="0.6"/>
<text x="378.50" y="390.30" class="tk">900</text>
<line x1="380.10" y1="403.90" x2="381.90" y2="403.90" stroke="#333" stroke-width="0.6"/>
<text x="378.50" y="406.90" class="tk">990</text>
<line x1="381.90" y1="404.40" x2="381.90" y2="406.00" stroke="#333" stroke-width="0.6"/>
<text x="381.90" y="413.40" class="mo">J</text>
<line x1="393.89" y1="404.40" x2="393.89" y2="406.00" stroke="#333" stroke-width="0.6"/>
<text x="393.89" y="413.40" class="mo">F</text>
<line x1="405.88" y1="404.40" x2="405.88" y2="406.00" stroke="#333" stroke-width="0.6"/>
<text x="405.88" y="413.40" class="mo">M</text>
<line x1="417.87" y1="404.40" x2="417.87" y2="406.00" stroke="#333" stroke-width="0.6"/>
<text x="417.87" y="413.40" class="mo">A</text>
<line x1="429.86" y1="404.40" x2="429.86" y2="406.00" stroke="#333" stroke-width="0.6"/>
<text x="429.86" y="413.40" class="mo">M</text>
<line x1="441.85" y1="404.40" x2="441.85" y2="406.00" stroke="#333" stroke-width="0.6"/>
<text x="441.85" y="413.40" class="mo">J</text>
<line x1="453.85" y1="404.40" x2="453.85" y2="406.00" stroke="#333" stroke-width="0.6"/>
<text x="453.85" y="413.40" class="mo">J</text>
<line x1="465.84" y1="404.40" x2="465.84" y2="406.00" stroke="#333" stroke-width="0.6"/>
<text x="465.84" y="413.40" class="mo">A</text>
<line x1="477.83" y1="404.40" x2="477.83" y2="406.00" stroke="#333" stroke-width="0.6"/>
<text x="477.83" y="413.40" class="mo">S</text>
<line x1="489.82" y1="404.40" x2="489.82" y2="406.00" stroke="#333" stroke-width="0.6"/>
<text x="489.82" y="413.40" class="mo">O</text>
<line x1="501.81" y1="404.40" x2="501.81" y2="406.00" stroke="#333" stroke-width="0.6"/>
<text x="501.81" y="413.40" class="mo">N</text>
<line x1="513.80" y1="404.40" x2="513.80" y2="406.00" stroke="#333" stroke-width="0.6"/>
<text x="513.80" y="413.40" class="mo">D</text>
<text x="348.70" y="290.40" class="lb">(i)</text>
<text transform="translate(361.60 344.00) rotate(-90)" class="yl">Pressure(hPa)</text>
<path d="M520.80 121.60L527.10 121.60L527.10 122.10L523.95 127.30L520.80 122.10Z" fill="#3d03fd"/>
<path d="M520.80 14.10L527.10 14.10L527.10 13.60L523.95 8.30L520.80 13.60Z" fill="#b00000"/>
<rect x="520.80" y="117.43" width="6.30" height="4.82" fill="#1200ff"/>
<rect x="520.80" y="112.91" width="6.30" height="4.82" fill="#0040ff"/>
<rect x="520.80" y="108.39" width="6.30" height="4.82" fill="#0068ff"/>
<rect x="520.80" y="103.87" width="6.30" height="4.82" fill="#0088ff"/>
<rect x="520.80" y="99.35" width="6.30" height="4.82" fill="#00a0ff"/>
<rect x="520.80" y="94.83" width="6.30" height="4.82" fill="#00b8ff"/>
<rect x="520.80" y="90.30" width="6.30" height="4.82" fill="#00d0ff"/>
<rect x="520.80" y="85.78" width="6.30" height="4.82" fill="#00e8ff"/>
<rect x="520.80" y="81.26" width="6.30" height="4.82" fill="#00fff0"/>
<rect x="520.80" y="76.74" width="6.30" height="4.82" fill="#10f5b8"/>
<rect x="520.80" y="72.22" width="6.30" height="4.82" fill="#20ec78"/>
<rect x="520.80" y="67.70" width="6.30" height="4.82" fill="#20dc10"/>
<rect x="520.80" y="63.18" width="6.30" height="4.82" fill="#60e800"/>
<rect x="520.80" y="58.66" width="6.30" height="4.82" fill="#b0f400"/>
<rect x="520.80" y="54.14" width="6.30" height="4.82" fill="#f0ff00"/>
<rect x="520.80" y="49.62" width="6.30" height="4.82" fill="#fff000"/>
<rect x="520.80" y="45.10" width="6.30" height="4.82" fill="#ffd800"/>
<rect x="520.80" y="40.58" width="6.30" height="4.82" fill="#ffb800"/>
<rect x="520.80" y="36.05" width="6.30" height="4.82" fill="#ff9000"/>
<rect x="520.80" y="31.53" width="6.30" height="4.82" fill="#ff7000"/>
<rect x="520.80" y="27.01" width="6.30" height="4.82" fill="#ff4838"/>
<rect x="520.80" y="22.49" width="6.30" height="4.82" fill="#f51818"/>
<rect x="520.80" y="17.97" width="6.30" height="4.82" fill="#e20c0c"/>
<rect x="520.80" y="13.45" width="6.30" height="4.82" fill="#cc0606"/>
<line x1="527.10" y1="122.10" x2="528.70" y2="122.10" stroke="#333" stroke-width="0.6"/>
<text x="530.50" y="124.50" class="cb">6</text>
<line x1="527.10" y1="108.54" x2="528.70" y2="108.54" stroke="#333" stroke-width="0.6"/>
<text x="530.50" y="110.94" class="cb">15</text>
<line x1="527.10" y1="94.97" x2="528.70" y2="94.97" stroke="#333" stroke-width="0.6"/>
<text x="530.50" y="97.38" class="cb">24</text>
<line x1="527.10" y1="81.41" x2="528.70" y2="81.41" stroke="#333" stroke-width="0.6"/>
<text x="530.50" y="83.81" class="cb">33</text>
<line x1="527.10" y1="67.85" x2="528.70" y2="67.85" stroke="#333" stroke-width="0.6"/>
<text x="530.50" y="70.25" class="cb">42</text>
<line x1="527.10" y1="54.29" x2="528.70" y2="54.29" stroke="#333" stroke-width="0.6"/>
<text x="530.50" y="56.69" class="cb">51</text>
<line x1="527.10" y1="40.72" x2="528.70" y2="40.72" stroke="#333" stroke-width="0.6"/>
<text x="530.50" y="43.12" class="cb">60</text>
<line x1="527.10" y1="27.16" x2="528.70" y2="27.16" stroke="#333" stroke-width="0.6"/>
<text x="530.50" y="29.56" class="cb">69</text>
<line x1="527.10" y1="13.60" x2="528.70" y2="13.60" stroke="#333" stroke-width="0.6"/>
<text x="530.50" y="16.00" class="cb">78</text>
<path d="M521.90 259.80L528.20 259.80L528.20 260.30L525.05 265.60L521.90 260.30Z" fill="#3d03fd"/>
<path d="M521.90 151.50L528.20 151.50L528.20 151.00L525.05 145.70L521.90 151.00Z" fill="#b00000"/>
<rect x="521.90" y="255.60" width="6.30" height="4.85" fill="#1200ff"/>
<rect x="521.90" y="251.04" width="6.30" height="4.85" fill="#0040ff"/>
<rect x="521.90" y="246.49" width="6.30" height="4.85" fill="#0068ff"/>
<rect x="521.90" y="241.93" width="6.30" height="4.85" fill="#0088ff"/>
<rect x="521.90" y="237.38" width="6.30" height="4.85" fill="#00a0ff"/>
<rect x="521.90" y="232.82" width="6.30" height="4.85" fill="#00b8ff"/>
<rect x="521.90" y="228.27" width="6.30" height="4.85" fill="#00d0ff"/>
<rect x="521.90" y="223.72" width="6.30" height="4.85" fill="#00e8ff"/>
<rect x="521.90" y="219.16" width="6.30" height="4.85" fill="#00fff0"/>
<rect x="521.90" y="214.61" width="6.30" height="4.85" fill="#10f5b8"/>
<rect x="521.90" y="210.05" width="6.30" height="4.85" fill="#20ec78"/>
<rect x="521.90" y="205.50" width="6.30" height="4.85" fill="#20dc10"/>
<rect x="521.90" y="200.95" width="6.30" height="4.85" fill="#60e800"/>
<rect x="521.90" y="196.39" width="6.30" height="4.85" fill="#b0f400"/>
<rect x="521.90" y="191.84" width="6.30" height="4.85" fill="#f0ff00"/>
<rect x="521.90" y="187.28" width="6.30" height="4.85" fill="#fff000"/>
<rect x="521.90" y="182.73" width="6.30" height="4.85" fill="#ffd800"/>
<rect x="521.90" y="178.17" width="6.30" height="4.85" fill="#ffb800"/>
<rect x="521.90" y="173.62" width="6.30" height="4.85" fill="#ff9000"/>
<rect x="521.90" y="169.07" width="6.30" height="4.85" fill="#ff7000"/>
<rect x="521.90" y="164.51" width="6.30" height="4.85" fill="#ff4838"/>
<rect x="521.90" y="159.96" width="6.30" height="4.85" fill="#f51818"/>
<rect x="521.90" y="155.40" width="6.30" height="4.85" fill="#e20c0c"/>
<rect x="521.90" y="150.85" width="6.30" height="4.85" fill="#cc0606"/>
<line x1="528.20" y1="260.30" x2="529.80" y2="260.30" stroke="#333" stroke-width="0.6"/>
<text x="531.60" y="262.70" class="cb">30</text>
<line x1="528.20" y1="246.64" x2="529.80" y2="246.64" stroke="#333" stroke-width="0.6"/>
<text x="531.60" y="249.04" class="cb">90</text>
<line x1="528.20" y1="232.98" x2="529.80" y2="232.98" stroke="#333" stroke-width="0.6"/>
<text x="531.60" y="235.38" class="cb">150</text>
<line x1="528.20" y1="219.31" x2="529.80" y2="219.31" stroke="#333" stroke-width="0.6"/>
<text x="531.60" y="221.71" class="cb">210</text>
<line x1="528.20" y1="205.65" x2="529.80" y2="205.65" stroke="#333" stroke-width="0.6"/>
<text x="531.60" y="208.05" class="cb">270</text>
<line x1="528.20" y1="191.99" x2="529.80" y2="191.99" stroke="#333" stroke-width="0.6"/>
<text x="531.60" y="194.39" class="cb">330</text>
<line x1="528.20" y1="178.32" x2="529.80" y2="178.32" stroke="#333" stroke-width="0.6"/>
<text x="531.60" y="180.72" class="cb">390</text>
<line x1="528.20" y1="164.66" x2="529.80" y2="164.66" stroke="#333" stroke-width="0.6"/>
<text x="531.60" y="167.06" class="cb">450</text>
<line x1="528.20" y1="151.00" x2="529.80" y2="151.00" stroke="#333" stroke-width="0.6"/>
<text x="531.60" y="153.40" class="cb">510</text>
<path d="M521.90 398.20L528.20 398.20L528.20 398.70L525.05 404.30L521.90 398.70Z" fill="#3d03fd"/>
<path d="M521.90 290.20L528.20 290.20L528.20 289.70L525.05 284.20L521.90 289.70Z" fill="#b00000"/>
<rect x="521.90" y="394.01" width="6.30" height="4.84" fill="#1200ff"/>
<rect x="521.90" y="389.47" width="6.30" height="4.84" fill="#0040ff"/>
<rect x="521.90" y="384.93" width="6.30" height="4.84" fill="#0068ff"/>
<rect x="521.90" y="380.38" width="6.30" height="4.84" fill="#0088ff"/>
<rect x="521.90" y="375.84" width="6.30" height="4.84" fill="#00a0ff"/>
<rect x="521.90" y="371.30" width="6.30" height="4.84" fill="#00b8ff"/>
<rect x="521.90" y="366.76" width="6.30" height="4.84" fill="#00d0ff"/>
<rect x="521.90" y="362.22" width="6.30" height="4.84" fill="#00e8ff"/>
<rect x="521.90" y="357.68" width="6.30" height="4.84" fill="#00fff0"/>
<rect x="521.90" y="353.13" width="6.30" height="4.84" fill="#10f5b8"/>
<rect x="521.90" y="348.59" width="6.30" height="4.84" fill="#20ec78"/>
<rect x="521.90" y="344.05" width="6.30" height="4.84" fill="#20dc10"/>
<rect x="521.90" y="339.51" width="6.30" height="4.84" fill="#60e800"/>
<rect x="521.90" y="334.97" width="6.30" height="4.84" fill="#b0f400"/>
<rect x="521.90" y="330.43" width="6.30" height="4.84" fill="#f0ff00"/>
<rect x="521.90" y="325.88" width="6.30" height="4.84" fill="#fff000"/>
<rect x="521.90" y="321.34" width="6.30" height="4.84" fill="#ffd800"/>
<rect x="521.90" y="316.80" width="6.30" height="4.84" fill="#ffb800"/>
<rect x="521.90" y="312.26" width="6.30" height="4.84" fill="#ff9000"/>
<rect x="521.90" y="307.72" width="6.30" height="4.84" fill="#ff7000"/>
<rect x="521.90" y="303.18" width="6.30" height="4.84" fill="#ff4838"/>
<rect x="521.90" y="298.63" width="6.30" height="4.84" fill="#f51818"/>
<rect x="521.90" y="294.09" width="6.30" height="4.84" fill="#e20c0c"/>
<rect x="521.90" y="289.55" width="6.30" height="4.84" fill="#cc0606"/>
<line x1="528.20" y1="398.70" x2="529.80" y2="398.70" stroke="#333" stroke-width="0.6"/>
<text x="531.60" y="401.10" class="cb">30</text>
<line x1="528.20" y1="385.07" x2="529.80" y2="385.07" stroke="#333" stroke-width="0.6"/>
<text x="531.60" y="387.47" class="cb">90</text>
<line x1="528.20" y1="371.45" x2="529.80" y2="371.45" stroke="#333" stroke-width="0.6"/>
<text x="531.60" y="373.85" class="cb">150</text>
<line x1="528.20" y1="357.82" x2="529.80" y2="357.82" stroke="#333" stroke-width="0.6"/>
<text x="531.60" y="360.22" class="cb">210</text>
<line x1="528.20" y1="344.20" x2="529.80" y2="344.20" stroke="#333" stroke-width="0.6"/>
<text x="531.60" y="346.60" class="cb">270</text>
<line x1="528.20" y1="330.57" x2="529.80" y2="330.57" stroke="#333" stroke-width="0.6"/>
<text x="531.60" y="332.97" class="cb">330</text>
<line x1="528.20" y1="316.95" x2="529.80" y2="316.95" stroke="#333" stroke-width="0.6"/>
<text x="531.60" y="319.35" class="cb">390</text>
<line x1="528.20" y1="303.32" x2="529.80" y2="303.32" stroke="#333" stroke-width="0.6"/>
<text x="531.60" y="305.72" class="cb">450</text>
<line x1="528.20" y1="289.70" x2="529.80" y2="289.70" stroke="#333" stroke-width="0.6"/>
<text x="531.60" y="292.10" class="cb">510</text>
</svg>
</body></html>
